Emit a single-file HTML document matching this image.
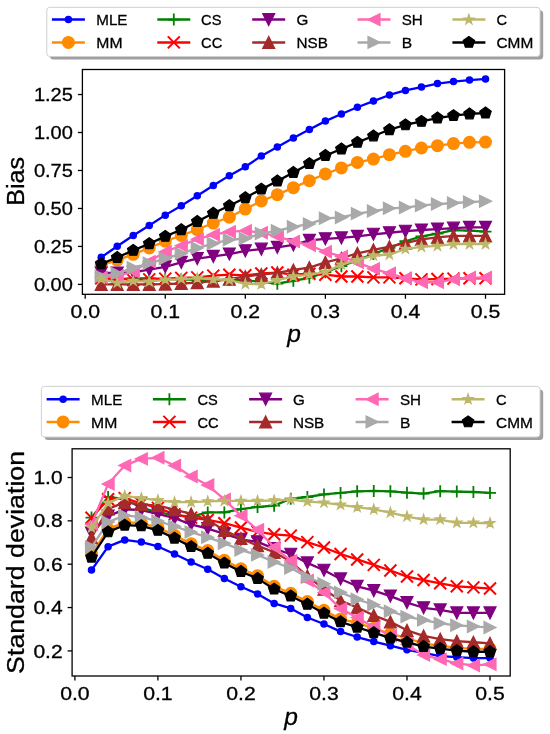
<!DOCTYPE html>
<html><head><meta charset="utf-8"><style>html,body{margin:0;padding:0;background:#fff;overflow:hidden}svg{display:block;will-change:transform}text{font-family:"Liberation Sans",sans-serif;fill:#000;stroke:#000;stroke-width:0.3px}</style></head><body>
<svg width="550" height="734" viewBox="0 0 550 734" font-family="Liberation Sans, sans-serif">
<defs><filter id="blur1" x="-5%" y="-20%" width="110%" height="140%"><feGaussianBlur stdDeviation="0.7"/></filter></defs>
<rect width="550" height="734" fill="#fff"/>
<clipPath id="c1"><rect x="82.40" y="69.50" width="422.20" height="224.80"/></clipPath>
<g clip-path="url(#c1)">
<polyline points="101.21,257.36 117.22,246.27 133.24,235.49 149.25,225.46 165.26,215.13 181.27,205.72 197.28,195.69 213.30,185.51 229.31,175.64 245.32,166.68 261.33,156.04 277.34,147.08 293.36,138.12 309.37,129.46 325.38,121.11 341.39,113.97 357.40,107.28 373.42,101.06 389.43,94.98 405.44,90.42 421.45,87.08 437.46,83.59 453.48,81.61 469.49,80.09 485.50,79.03" fill="none" stroke="#0000ff" stroke-width="2.3" stroke-linejoin="round" stroke-linecap="square"/>
<circle cx="101.21" cy="257.36" r="3.75" fill="#0000ff"/>
<circle cx="117.22" cy="246.27" r="3.75" fill="#0000ff"/>
<circle cx="133.24" cy="235.49" r="3.75" fill="#0000ff"/>
<circle cx="149.25" cy="225.46" r="3.75" fill="#0000ff"/>
<circle cx="165.26" cy="215.13" r="3.75" fill="#0000ff"/>
<circle cx="181.27" cy="205.72" r="3.75" fill="#0000ff"/>
<circle cx="197.28" cy="195.69" r="3.75" fill="#0000ff"/>
<circle cx="213.30" cy="185.51" r="3.75" fill="#0000ff"/>
<circle cx="229.31" cy="175.64" r="3.75" fill="#0000ff"/>
<circle cx="245.32" cy="166.68" r="3.75" fill="#0000ff"/>
<circle cx="261.33" cy="156.04" r="3.75" fill="#0000ff"/>
<circle cx="277.34" cy="147.08" r="3.75" fill="#0000ff"/>
<circle cx="293.36" cy="138.12" r="3.75" fill="#0000ff"/>
<circle cx="309.37" cy="129.46" r="3.75" fill="#0000ff"/>
<circle cx="325.38" cy="121.11" r="3.75" fill="#0000ff"/>
<circle cx="341.39" cy="113.97" r="3.75" fill="#0000ff"/>
<circle cx="357.40" cy="107.28" r="3.75" fill="#0000ff"/>
<circle cx="373.42" cy="101.06" r="3.75" fill="#0000ff"/>
<circle cx="389.43" cy="94.98" r="3.75" fill="#0000ff"/>
<circle cx="405.44" cy="90.42" r="3.75" fill="#0000ff"/>
<circle cx="421.45" cy="87.08" r="3.75" fill="#0000ff"/>
<circle cx="437.46" cy="83.59" r="3.75" fill="#0000ff"/>
<circle cx="453.48" cy="81.61" r="3.75" fill="#0000ff"/>
<circle cx="469.49" cy="80.09" r="3.75" fill="#0000ff"/>
<circle cx="485.50" cy="79.03" r="3.75" fill="#0000ff"/>
</g>
<g clip-path="url(#c1)">
<polyline points="101.21,265.26 117.22,260.10 133.24,254.32 149.25,247.94 165.26,241.26 181.27,235.49 197.28,229.56 213.30,223.03 229.31,217.26 245.32,209.06 261.33,201.01 277.34,194.63 293.36,187.64 309.37,180.65 325.38,173.97 341.39,167.89 357.40,162.42 373.42,159.08 389.43,154.68 405.44,151.34 421.45,147.99 437.46,145.72 453.48,143.59 469.49,142.37 485.50,142.07" fill="none" stroke="#ff8c00" stroke-width="2.3" stroke-linejoin="round" stroke-linecap="square"/>
<circle cx="101.21" cy="265.26" r="6.50" fill="#ff8c00"/>
<circle cx="117.22" cy="260.10" r="6.50" fill="#ff8c00"/>
<circle cx="133.24" cy="254.32" r="6.50" fill="#ff8c00"/>
<circle cx="149.25" cy="247.94" r="6.50" fill="#ff8c00"/>
<circle cx="165.26" cy="241.26" r="6.50" fill="#ff8c00"/>
<circle cx="181.27" cy="235.49" r="6.50" fill="#ff8c00"/>
<circle cx="197.28" cy="229.56" r="6.50" fill="#ff8c00"/>
<circle cx="213.30" cy="223.03" r="6.50" fill="#ff8c00"/>
<circle cx="229.31" cy="217.26" r="6.50" fill="#ff8c00"/>
<circle cx="245.32" cy="209.06" r="6.50" fill="#ff8c00"/>
<circle cx="261.33" cy="201.01" r="6.50" fill="#ff8c00"/>
<circle cx="277.34" cy="194.63" r="6.50" fill="#ff8c00"/>
<circle cx="293.36" cy="187.64" r="6.50" fill="#ff8c00"/>
<circle cx="309.37" cy="180.65" r="6.50" fill="#ff8c00"/>
<circle cx="325.38" cy="173.97" r="6.50" fill="#ff8c00"/>
<circle cx="341.39" cy="167.89" r="6.50" fill="#ff8c00"/>
<circle cx="357.40" cy="162.42" r="6.50" fill="#ff8c00"/>
<circle cx="373.42" cy="159.08" r="6.50" fill="#ff8c00"/>
<circle cx="389.43" cy="154.68" r="6.50" fill="#ff8c00"/>
<circle cx="405.44" cy="151.34" r="6.50" fill="#ff8c00"/>
<circle cx="421.45" cy="147.99" r="6.50" fill="#ff8c00"/>
<circle cx="437.46" cy="145.72" r="6.50" fill="#ff8c00"/>
<circle cx="453.48" cy="143.59" r="6.50" fill="#ff8c00"/>
<circle cx="469.49" cy="142.37" r="6.50" fill="#ff8c00"/>
<circle cx="485.50" cy="142.07" r="6.50" fill="#ff8c00"/>
</g>
<g clip-path="url(#c1)">
<polyline points="101.21,279.84 117.22,279.08 133.24,278.32 149.25,278.32 165.26,279.08 181.27,279.39 197.28,279.84 213.30,279.84 229.31,279.84 245.32,280.15 261.33,282.12 277.34,283.64 293.36,280.75 309.37,277.87 325.38,272.25 341.39,266.17 357.40,260.10 373.42,254.02 389.43,247.94 405.44,241.26 421.45,236.40 437.46,233.67 453.48,230.17 469.49,230.63 485.50,231.54" fill="none" stroke="#008000" stroke-width="2.3" stroke-linejoin="round" stroke-linecap="square"/>
<path transform="translate(101.21,279.84)" d="M-6.00,0 L6.00,0 M0,-6.00 L0,6.00" stroke="#008000" stroke-width="1.8" fill="none"/>
<path transform="translate(117.22,279.08)" d="M-6.00,0 L6.00,0 M0,-6.00 L0,6.00" stroke="#008000" stroke-width="1.8" fill="none"/>
<path transform="translate(133.24,278.32)" d="M-6.00,0 L6.00,0 M0,-6.00 L0,6.00" stroke="#008000" stroke-width="1.8" fill="none"/>
<path transform="translate(149.25,278.32)" d="M-6.00,0 L6.00,0 M0,-6.00 L0,6.00" stroke="#008000" stroke-width="1.8" fill="none"/>
<path transform="translate(165.26,279.08)" d="M-6.00,0 L6.00,0 M0,-6.00 L0,6.00" stroke="#008000" stroke-width="1.8" fill="none"/>
<path transform="translate(181.27,279.39)" d="M-6.00,0 L6.00,0 M0,-6.00 L0,6.00" stroke="#008000" stroke-width="1.8" fill="none"/>
<path transform="translate(197.28,279.84)" d="M-6.00,0 L6.00,0 M0,-6.00 L0,6.00" stroke="#008000" stroke-width="1.8" fill="none"/>
<path transform="translate(213.30,279.84)" d="M-6.00,0 L6.00,0 M0,-6.00 L0,6.00" stroke="#008000" stroke-width="1.8" fill="none"/>
<path transform="translate(229.31,279.84)" d="M-6.00,0 L6.00,0 M0,-6.00 L0,6.00" stroke="#008000" stroke-width="1.8" fill="none"/>
<path transform="translate(245.32,280.15)" d="M-6.00,0 L6.00,0 M0,-6.00 L0,6.00" stroke="#008000" stroke-width="1.8" fill="none"/>
<path transform="translate(261.33,282.12)" d="M-6.00,0 L6.00,0 M0,-6.00 L0,6.00" stroke="#008000" stroke-width="1.8" fill="none"/>
<path transform="translate(277.34,283.64)" d="M-6.00,0 L6.00,0 M0,-6.00 L0,6.00" stroke="#008000" stroke-width="1.8" fill="none"/>
<path transform="translate(293.36,280.75)" d="M-6.00,0 L6.00,0 M0,-6.00 L0,6.00" stroke="#008000" stroke-width="1.8" fill="none"/>
<path transform="translate(309.37,277.87)" d="M-6.00,0 L6.00,0 M0,-6.00 L0,6.00" stroke="#008000" stroke-width="1.8" fill="none"/>
<path transform="translate(325.38,272.25)" d="M-6.00,0 L6.00,0 M0,-6.00 L0,6.00" stroke="#008000" stroke-width="1.8" fill="none"/>
<path transform="translate(341.39,266.17)" d="M-6.00,0 L6.00,0 M0,-6.00 L0,6.00" stroke="#008000" stroke-width="1.8" fill="none"/>
<path transform="translate(357.40,260.10)" d="M-6.00,0 L6.00,0 M0,-6.00 L0,6.00" stroke="#008000" stroke-width="1.8" fill="none"/>
<path transform="translate(373.42,254.02)" d="M-6.00,0 L6.00,0 M0,-6.00 L0,6.00" stroke="#008000" stroke-width="1.8" fill="none"/>
<path transform="translate(389.43,247.94)" d="M-6.00,0 L6.00,0 M0,-6.00 L0,6.00" stroke="#008000" stroke-width="1.8" fill="none"/>
<path transform="translate(405.44,241.26)" d="M-6.00,0 L6.00,0 M0,-6.00 L0,6.00" stroke="#008000" stroke-width="1.8" fill="none"/>
<path transform="translate(421.45,236.40)" d="M-6.00,0 L6.00,0 M0,-6.00 L0,6.00" stroke="#008000" stroke-width="1.8" fill="none"/>
<path transform="translate(437.46,233.67)" d="M-6.00,0 L6.00,0 M0,-6.00 L0,6.00" stroke="#008000" stroke-width="1.8" fill="none"/>
<path transform="translate(453.48,230.17)" d="M-6.00,0 L6.00,0 M0,-6.00 L0,6.00" stroke="#008000" stroke-width="1.8" fill="none"/>
<path transform="translate(469.49,230.63)" d="M-6.00,0 L6.00,0 M0,-6.00 L0,6.00" stroke="#008000" stroke-width="1.8" fill="none"/>
<path transform="translate(485.50,231.54)" d="M-6.00,0 L6.00,0 M0,-6.00 L0,6.00" stroke="#008000" stroke-width="1.8" fill="none"/>
</g>
<g clip-path="url(#c1)">
<polyline points="101.21,278.32 117.22,278.32 133.24,280.15 149.25,279.39 165.26,278.63 181.27,277.87 197.28,277.41 213.30,275.59 229.31,274.68 245.32,275.29 261.33,273.46 277.34,272.55 293.36,274.68 309.37,273.77 325.38,274.68 341.39,276.50 357.40,276.50 373.42,277.41 389.43,277.41 405.44,278.32 421.45,279.39 437.46,279.08 453.48,278.63 469.49,278.32 485.50,278.32" fill="none" stroke="#ff0000" stroke-width="2.3" stroke-linejoin="round" stroke-linecap="square"/>
<path transform="translate(101.21,278.32)" d="M-6.00,-6.00 L6.00,6.00 M-6.00,6.00 L6.00,-6.00" stroke="#ff0000" stroke-width="2" fill="none"/>
<path transform="translate(117.22,278.32)" d="M-6.00,-6.00 L6.00,6.00 M-6.00,6.00 L6.00,-6.00" stroke="#ff0000" stroke-width="2" fill="none"/>
<path transform="translate(133.24,280.15)" d="M-6.00,-6.00 L6.00,6.00 M-6.00,6.00 L6.00,-6.00" stroke="#ff0000" stroke-width="2" fill="none"/>
<path transform="translate(149.25,279.39)" d="M-6.00,-6.00 L6.00,6.00 M-6.00,6.00 L6.00,-6.00" stroke="#ff0000" stroke-width="2" fill="none"/>
<path transform="translate(165.26,278.63)" d="M-6.00,-6.00 L6.00,6.00 M-6.00,6.00 L6.00,-6.00" stroke="#ff0000" stroke-width="2" fill="none"/>
<path transform="translate(181.27,277.87)" d="M-6.00,-6.00 L6.00,6.00 M-6.00,6.00 L6.00,-6.00" stroke="#ff0000" stroke-width="2" fill="none"/>
<path transform="translate(197.28,277.41)" d="M-6.00,-6.00 L6.00,6.00 M-6.00,6.00 L6.00,-6.00" stroke="#ff0000" stroke-width="2" fill="none"/>
<path transform="translate(213.30,275.59)" d="M-6.00,-6.00 L6.00,6.00 M-6.00,6.00 L6.00,-6.00" stroke="#ff0000" stroke-width="2" fill="none"/>
<path transform="translate(229.31,274.68)" d="M-6.00,-6.00 L6.00,6.00 M-6.00,6.00 L6.00,-6.00" stroke="#ff0000" stroke-width="2" fill="none"/>
<path transform="translate(245.32,275.29)" d="M-6.00,-6.00 L6.00,6.00 M-6.00,6.00 L6.00,-6.00" stroke="#ff0000" stroke-width="2" fill="none"/>
<path transform="translate(261.33,273.46)" d="M-6.00,-6.00 L6.00,6.00 M-6.00,6.00 L6.00,-6.00" stroke="#ff0000" stroke-width="2" fill="none"/>
<path transform="translate(277.34,272.55)" d="M-6.00,-6.00 L6.00,6.00 M-6.00,6.00 L6.00,-6.00" stroke="#ff0000" stroke-width="2" fill="none"/>
<path transform="translate(293.36,274.68)" d="M-6.00,-6.00 L6.00,6.00 M-6.00,6.00 L6.00,-6.00" stroke="#ff0000" stroke-width="2" fill="none"/>
<path transform="translate(309.37,273.77)" d="M-6.00,-6.00 L6.00,6.00 M-6.00,6.00 L6.00,-6.00" stroke="#ff0000" stroke-width="2" fill="none"/>
<path transform="translate(325.38,274.68)" d="M-6.00,-6.00 L6.00,6.00 M-6.00,6.00 L6.00,-6.00" stroke="#ff0000" stroke-width="2" fill="none"/>
<path transform="translate(341.39,276.50)" d="M-6.00,-6.00 L6.00,6.00 M-6.00,6.00 L6.00,-6.00" stroke="#ff0000" stroke-width="2" fill="none"/>
<path transform="translate(357.40,276.50)" d="M-6.00,-6.00 L6.00,6.00 M-6.00,6.00 L6.00,-6.00" stroke="#ff0000" stroke-width="2" fill="none"/>
<path transform="translate(373.42,277.41)" d="M-6.00,-6.00 L6.00,6.00 M-6.00,6.00 L6.00,-6.00" stroke="#ff0000" stroke-width="2" fill="none"/>
<path transform="translate(389.43,277.41)" d="M-6.00,-6.00 L6.00,6.00 M-6.00,6.00 L6.00,-6.00" stroke="#ff0000" stroke-width="2" fill="none"/>
<path transform="translate(405.44,278.32)" d="M-6.00,-6.00 L6.00,6.00 M-6.00,6.00 L6.00,-6.00" stroke="#ff0000" stroke-width="2" fill="none"/>
<path transform="translate(421.45,279.39)" d="M-6.00,-6.00 L6.00,6.00 M-6.00,6.00 L6.00,-6.00" stroke="#ff0000" stroke-width="2" fill="none"/>
<path transform="translate(437.46,279.08)" d="M-6.00,-6.00 L6.00,6.00 M-6.00,6.00 L6.00,-6.00" stroke="#ff0000" stroke-width="2" fill="none"/>
<path transform="translate(453.48,278.63)" d="M-6.00,-6.00 L6.00,6.00 M-6.00,6.00 L6.00,-6.00" stroke="#ff0000" stroke-width="2" fill="none"/>
<path transform="translate(469.49,278.32)" d="M-6.00,-6.00 L6.00,6.00 M-6.00,6.00 L6.00,-6.00" stroke="#ff0000" stroke-width="2" fill="none"/>
<path transform="translate(485.50,278.32)" d="M-6.00,-6.00 L6.00,6.00 M-6.00,6.00 L6.00,-6.00" stroke="#ff0000" stroke-width="2" fill="none"/>
</g>
<g clip-path="url(#c1)">
<polyline points="101.21,273.01 117.22,273.01 133.24,272.25 149.25,269.67 165.26,266.78 181.27,262.37 197.28,258.58 213.30,256.45 229.31,254.02 245.32,250.83 261.33,249.16 277.34,247.34 293.36,244.91 309.37,240.35 325.38,238.83 341.39,237.92 357.40,236.40 373.42,234.27 389.43,232.75 405.44,231.23 421.45,230.02 437.46,229.11 453.48,228.20 469.49,227.44 485.50,227.29" fill="none" stroke="#800080" stroke-width="2.3" stroke-linejoin="round" stroke-linecap="square"/>
<path transform="translate(101.21,273.01)" d="M0.00,6.00 L6.00,-6.00 L-6.00,-6.00 Z" fill="#800080" stroke="#800080" stroke-width="1.2" stroke-linejoin="miter"/>
<path transform="translate(117.22,273.01)" d="M0.00,6.00 L6.00,-6.00 L-6.00,-6.00 Z" fill="#800080" stroke="#800080" stroke-width="1.2" stroke-linejoin="miter"/>
<path transform="translate(133.24,272.25)" d="M0.00,6.00 L6.00,-6.00 L-6.00,-6.00 Z" fill="#800080" stroke="#800080" stroke-width="1.2" stroke-linejoin="miter"/>
<path transform="translate(149.25,269.67)" d="M0.00,6.00 L6.00,-6.00 L-6.00,-6.00 Z" fill="#800080" stroke="#800080" stroke-width="1.2" stroke-linejoin="miter"/>
<path transform="translate(165.26,266.78)" d="M0.00,6.00 L6.00,-6.00 L-6.00,-6.00 Z" fill="#800080" stroke="#800080" stroke-width="1.2" stroke-linejoin="miter"/>
<path transform="translate(181.27,262.37)" d="M0.00,6.00 L6.00,-6.00 L-6.00,-6.00 Z" fill="#800080" stroke="#800080" stroke-width="1.2" stroke-linejoin="miter"/>
<path transform="translate(197.28,258.58)" d="M0.00,6.00 L6.00,-6.00 L-6.00,-6.00 Z" fill="#800080" stroke="#800080" stroke-width="1.2" stroke-linejoin="miter"/>
<path transform="translate(213.30,256.45)" d="M0.00,6.00 L6.00,-6.00 L-6.00,-6.00 Z" fill="#800080" stroke="#800080" stroke-width="1.2" stroke-linejoin="miter"/>
<path transform="translate(229.31,254.02)" d="M0.00,6.00 L6.00,-6.00 L-6.00,-6.00 Z" fill="#800080" stroke="#800080" stroke-width="1.2" stroke-linejoin="miter"/>
<path transform="translate(245.32,250.83)" d="M0.00,6.00 L6.00,-6.00 L-6.00,-6.00 Z" fill="#800080" stroke="#800080" stroke-width="1.2" stroke-linejoin="miter"/>
<path transform="translate(261.33,249.16)" d="M0.00,6.00 L6.00,-6.00 L-6.00,-6.00 Z" fill="#800080" stroke="#800080" stroke-width="1.2" stroke-linejoin="miter"/>
<path transform="translate(277.34,247.34)" d="M0.00,6.00 L6.00,-6.00 L-6.00,-6.00 Z" fill="#800080" stroke="#800080" stroke-width="1.2" stroke-linejoin="miter"/>
<path transform="translate(293.36,244.91)" d="M0.00,6.00 L6.00,-6.00 L-6.00,-6.00 Z" fill="#800080" stroke="#800080" stroke-width="1.2" stroke-linejoin="miter"/>
<path transform="translate(309.37,240.35)" d="M0.00,6.00 L6.00,-6.00 L-6.00,-6.00 Z" fill="#800080" stroke="#800080" stroke-width="1.2" stroke-linejoin="miter"/>
<path transform="translate(325.38,238.83)" d="M0.00,6.00 L6.00,-6.00 L-6.00,-6.00 Z" fill="#800080" stroke="#800080" stroke-width="1.2" stroke-linejoin="miter"/>
<path transform="translate(341.39,237.92)" d="M0.00,6.00 L6.00,-6.00 L-6.00,-6.00 Z" fill="#800080" stroke="#800080" stroke-width="1.2" stroke-linejoin="miter"/>
<path transform="translate(357.40,236.40)" d="M0.00,6.00 L6.00,-6.00 L-6.00,-6.00 Z" fill="#800080" stroke="#800080" stroke-width="1.2" stroke-linejoin="miter"/>
<path transform="translate(373.42,234.27)" d="M0.00,6.00 L6.00,-6.00 L-6.00,-6.00 Z" fill="#800080" stroke="#800080" stroke-width="1.2" stroke-linejoin="miter"/>
<path transform="translate(389.43,232.75)" d="M0.00,6.00 L6.00,-6.00 L-6.00,-6.00 Z" fill="#800080" stroke="#800080" stroke-width="1.2" stroke-linejoin="miter"/>
<path transform="translate(405.44,231.23)" d="M0.00,6.00 L6.00,-6.00 L-6.00,-6.00 Z" fill="#800080" stroke="#800080" stroke-width="1.2" stroke-linejoin="miter"/>
<path transform="translate(421.45,230.02)" d="M0.00,6.00 L6.00,-6.00 L-6.00,-6.00 Z" fill="#800080" stroke="#800080" stroke-width="1.2" stroke-linejoin="miter"/>
<path transform="translate(437.46,229.11)" d="M0.00,6.00 L6.00,-6.00 L-6.00,-6.00 Z" fill="#800080" stroke="#800080" stroke-width="1.2" stroke-linejoin="miter"/>
<path transform="translate(453.48,228.20)" d="M0.00,6.00 L6.00,-6.00 L-6.00,-6.00 Z" fill="#800080" stroke="#800080" stroke-width="1.2" stroke-linejoin="miter"/>
<path transform="translate(469.49,227.44)" d="M0.00,6.00 L6.00,-6.00 L-6.00,-6.00 Z" fill="#800080" stroke="#800080" stroke-width="1.2" stroke-linejoin="miter"/>
<path transform="translate(485.50,227.29)" d="M0.00,6.00 L6.00,-6.00 L-6.00,-6.00 Z" fill="#800080" stroke="#800080" stroke-width="1.2" stroke-linejoin="miter"/>
</g>
<g clip-path="url(#c1)">
<polyline points="101.21,284.40 117.22,284.40 133.24,284.40 149.25,284.40 165.26,284.10 181.27,283.49 197.28,282.58 213.30,281.06 229.31,279.24 245.32,276.50 261.33,274.53 277.34,272.86 293.36,269.97 309.37,267.54 325.38,262.37 341.39,258.27 357.40,253.26 373.42,249.77 389.43,246.73 405.44,243.08 421.45,239.29 437.46,237.46 453.48,235.79 469.49,235.79 485.50,235.79" fill="none" stroke="#a52a2a" stroke-width="2.3" stroke-linejoin="round" stroke-linecap="square"/>
<path transform="translate(101.21,284.40)" d="M0.00,-6.00 L-6.00,6.00 L6.00,6.00 Z" fill="#a52a2a" stroke="#a52a2a" stroke-width="1.2" stroke-linejoin="miter"/>
<path transform="translate(117.22,284.40)" d="M0.00,-6.00 L-6.00,6.00 L6.00,6.00 Z" fill="#a52a2a" stroke="#a52a2a" stroke-width="1.2" stroke-linejoin="miter"/>
<path transform="translate(133.24,284.40)" d="M0.00,-6.00 L-6.00,6.00 L6.00,6.00 Z" fill="#a52a2a" stroke="#a52a2a" stroke-width="1.2" stroke-linejoin="miter"/>
<path transform="translate(149.25,284.40)" d="M0.00,-6.00 L-6.00,6.00 L6.00,6.00 Z" fill="#a52a2a" stroke="#a52a2a" stroke-width="1.2" stroke-linejoin="miter"/>
<path transform="translate(165.26,284.10)" d="M0.00,-6.00 L-6.00,6.00 L6.00,6.00 Z" fill="#a52a2a" stroke="#a52a2a" stroke-width="1.2" stroke-linejoin="miter"/>
<path transform="translate(181.27,283.49)" d="M0.00,-6.00 L-6.00,6.00 L6.00,6.00 Z" fill="#a52a2a" stroke="#a52a2a" stroke-width="1.2" stroke-linejoin="miter"/>
<path transform="translate(197.28,282.58)" d="M0.00,-6.00 L-6.00,6.00 L6.00,6.00 Z" fill="#a52a2a" stroke="#a52a2a" stroke-width="1.2" stroke-linejoin="miter"/>
<path transform="translate(213.30,281.06)" d="M0.00,-6.00 L-6.00,6.00 L6.00,6.00 Z" fill="#a52a2a" stroke="#a52a2a" stroke-width="1.2" stroke-linejoin="miter"/>
<path transform="translate(229.31,279.24)" d="M0.00,-6.00 L-6.00,6.00 L6.00,6.00 Z" fill="#a52a2a" stroke="#a52a2a" stroke-width="1.2" stroke-linejoin="miter"/>
<path transform="translate(245.32,276.50)" d="M0.00,-6.00 L-6.00,6.00 L6.00,6.00 Z" fill="#a52a2a" stroke="#a52a2a" stroke-width="1.2" stroke-linejoin="miter"/>
<path transform="translate(261.33,274.53)" d="M0.00,-6.00 L-6.00,6.00 L6.00,6.00 Z" fill="#a52a2a" stroke="#a52a2a" stroke-width="1.2" stroke-linejoin="miter"/>
<path transform="translate(277.34,272.86)" d="M0.00,-6.00 L-6.00,6.00 L6.00,6.00 Z" fill="#a52a2a" stroke="#a52a2a" stroke-width="1.2" stroke-linejoin="miter"/>
<path transform="translate(293.36,269.97)" d="M0.00,-6.00 L-6.00,6.00 L6.00,6.00 Z" fill="#a52a2a" stroke="#a52a2a" stroke-width="1.2" stroke-linejoin="miter"/>
<path transform="translate(309.37,267.54)" d="M0.00,-6.00 L-6.00,6.00 L6.00,6.00 Z" fill="#a52a2a" stroke="#a52a2a" stroke-width="1.2" stroke-linejoin="miter"/>
<path transform="translate(325.38,262.37)" d="M0.00,-6.00 L-6.00,6.00 L6.00,6.00 Z" fill="#a52a2a" stroke="#a52a2a" stroke-width="1.2" stroke-linejoin="miter"/>
<path transform="translate(341.39,258.27)" d="M0.00,-6.00 L-6.00,6.00 L6.00,6.00 Z" fill="#a52a2a" stroke="#a52a2a" stroke-width="1.2" stroke-linejoin="miter"/>
<path transform="translate(357.40,253.26)" d="M0.00,-6.00 L-6.00,6.00 L6.00,6.00 Z" fill="#a52a2a" stroke="#a52a2a" stroke-width="1.2" stroke-linejoin="miter"/>
<path transform="translate(373.42,249.77)" d="M0.00,-6.00 L-6.00,6.00 L6.00,6.00 Z" fill="#a52a2a" stroke="#a52a2a" stroke-width="1.2" stroke-linejoin="miter"/>
<path transform="translate(389.43,246.73)" d="M0.00,-6.00 L-6.00,6.00 L6.00,6.00 Z" fill="#a52a2a" stroke="#a52a2a" stroke-width="1.2" stroke-linejoin="miter"/>
<path transform="translate(405.44,243.08)" d="M0.00,-6.00 L-6.00,6.00 L6.00,6.00 Z" fill="#a52a2a" stroke="#a52a2a" stroke-width="1.2" stroke-linejoin="miter"/>
<path transform="translate(421.45,239.29)" d="M0.00,-6.00 L-6.00,6.00 L6.00,6.00 Z" fill="#a52a2a" stroke="#a52a2a" stroke-width="1.2" stroke-linejoin="miter"/>
<path transform="translate(437.46,237.46)" d="M0.00,-6.00 L-6.00,6.00 L6.00,6.00 Z" fill="#a52a2a" stroke="#a52a2a" stroke-width="1.2" stroke-linejoin="miter"/>
<path transform="translate(453.48,235.79)" d="M0.00,-6.00 L-6.00,6.00 L6.00,6.00 Z" fill="#a52a2a" stroke="#a52a2a" stroke-width="1.2" stroke-linejoin="miter"/>
<path transform="translate(469.49,235.79)" d="M0.00,-6.00 L-6.00,6.00 L6.00,6.00 Z" fill="#a52a2a" stroke="#a52a2a" stroke-width="1.2" stroke-linejoin="miter"/>
<path transform="translate(485.50,235.79)" d="M0.00,-6.00 L-6.00,6.00 L6.00,6.00 Z" fill="#a52a2a" stroke="#a52a2a" stroke-width="1.2" stroke-linejoin="miter"/>
</g>
<g clip-path="url(#c1)">
<polyline points="101.21,277.56 117.22,276.05 133.24,271.49 149.25,261.61 165.26,251.74 181.27,245.67 197.28,239.13 213.30,234.73 229.31,231.84 245.32,230.63 261.33,232.75 277.34,236.40 293.36,241.41 309.37,245.21 325.38,251.74 341.39,256.45 357.40,262.37 373.42,268.75 389.43,273.31 405.44,278.32 421.45,282.27 437.46,282.27 453.48,279.39 469.49,277.56 485.50,277.56" fill="none" stroke="#ff69b4" stroke-width="2.3" stroke-linejoin="round" stroke-linecap="square"/>
<path transform="translate(101.21,277.56)" d="M-6.00,0.00 L6.00,6.00 L6.00,-6.00 Z" fill="#ff69b4" stroke="#ff69b4" stroke-width="1.2" stroke-linejoin="miter"/>
<path transform="translate(117.22,276.05)" d="M-6.00,0.00 L6.00,6.00 L6.00,-6.00 Z" fill="#ff69b4" stroke="#ff69b4" stroke-width="1.2" stroke-linejoin="miter"/>
<path transform="translate(133.24,271.49)" d="M-6.00,0.00 L6.00,6.00 L6.00,-6.00 Z" fill="#ff69b4" stroke="#ff69b4" stroke-width="1.2" stroke-linejoin="miter"/>
<path transform="translate(149.25,261.61)" d="M-6.00,0.00 L6.00,6.00 L6.00,-6.00 Z" fill="#ff69b4" stroke="#ff69b4" stroke-width="1.2" stroke-linejoin="miter"/>
<path transform="translate(165.26,251.74)" d="M-6.00,0.00 L6.00,6.00 L6.00,-6.00 Z" fill="#ff69b4" stroke="#ff69b4" stroke-width="1.2" stroke-linejoin="miter"/>
<path transform="translate(181.27,245.67)" d="M-6.00,0.00 L6.00,6.00 L6.00,-6.00 Z" fill="#ff69b4" stroke="#ff69b4" stroke-width="1.2" stroke-linejoin="miter"/>
<path transform="translate(197.28,239.13)" d="M-6.00,0.00 L6.00,6.00 L6.00,-6.00 Z" fill="#ff69b4" stroke="#ff69b4" stroke-width="1.2" stroke-linejoin="miter"/>
<path transform="translate(213.30,234.73)" d="M-6.00,0.00 L6.00,6.00 L6.00,-6.00 Z" fill="#ff69b4" stroke="#ff69b4" stroke-width="1.2" stroke-linejoin="miter"/>
<path transform="translate(229.31,231.84)" d="M-6.00,0.00 L6.00,6.00 L6.00,-6.00 Z" fill="#ff69b4" stroke="#ff69b4" stroke-width="1.2" stroke-linejoin="miter"/>
<path transform="translate(245.32,230.63)" d="M-6.00,0.00 L6.00,6.00 L6.00,-6.00 Z" fill="#ff69b4" stroke="#ff69b4" stroke-width="1.2" stroke-linejoin="miter"/>
<path transform="translate(261.33,232.75)" d="M-6.00,0.00 L6.00,6.00 L6.00,-6.00 Z" fill="#ff69b4" stroke="#ff69b4" stroke-width="1.2" stroke-linejoin="miter"/>
<path transform="translate(277.34,236.40)" d="M-6.00,0.00 L6.00,6.00 L6.00,-6.00 Z" fill="#ff69b4" stroke="#ff69b4" stroke-width="1.2" stroke-linejoin="miter"/>
<path transform="translate(293.36,241.41)" d="M-6.00,0.00 L6.00,6.00 L6.00,-6.00 Z" fill="#ff69b4" stroke="#ff69b4" stroke-width="1.2" stroke-linejoin="miter"/>
<path transform="translate(309.37,245.21)" d="M-6.00,0.00 L6.00,6.00 L6.00,-6.00 Z" fill="#ff69b4" stroke="#ff69b4" stroke-width="1.2" stroke-linejoin="miter"/>
<path transform="translate(325.38,251.74)" d="M-6.00,0.00 L6.00,6.00 L6.00,-6.00 Z" fill="#ff69b4" stroke="#ff69b4" stroke-width="1.2" stroke-linejoin="miter"/>
<path transform="translate(341.39,256.45)" d="M-6.00,0.00 L6.00,6.00 L6.00,-6.00 Z" fill="#ff69b4" stroke="#ff69b4" stroke-width="1.2" stroke-linejoin="miter"/>
<path transform="translate(357.40,262.37)" d="M-6.00,0.00 L6.00,6.00 L6.00,-6.00 Z" fill="#ff69b4" stroke="#ff69b4" stroke-width="1.2" stroke-linejoin="miter"/>
<path transform="translate(373.42,268.75)" d="M-6.00,0.00 L6.00,6.00 L6.00,-6.00 Z" fill="#ff69b4" stroke="#ff69b4" stroke-width="1.2" stroke-linejoin="miter"/>
<path transform="translate(389.43,273.31)" d="M-6.00,0.00 L6.00,6.00 L6.00,-6.00 Z" fill="#ff69b4" stroke="#ff69b4" stroke-width="1.2" stroke-linejoin="miter"/>
<path transform="translate(405.44,278.32)" d="M-6.00,0.00 L6.00,6.00 L6.00,-6.00 Z" fill="#ff69b4" stroke="#ff69b4" stroke-width="1.2" stroke-linejoin="miter"/>
<path transform="translate(421.45,282.27)" d="M-6.00,0.00 L6.00,6.00 L6.00,-6.00 Z" fill="#ff69b4" stroke="#ff69b4" stroke-width="1.2" stroke-linejoin="miter"/>
<path transform="translate(437.46,282.27)" d="M-6.00,0.00 L6.00,6.00 L6.00,-6.00 Z" fill="#ff69b4" stroke="#ff69b4" stroke-width="1.2" stroke-linejoin="miter"/>
<path transform="translate(453.48,279.39)" d="M-6.00,0.00 L6.00,6.00 L6.00,-6.00 Z" fill="#ff69b4" stroke="#ff69b4" stroke-width="1.2" stroke-linejoin="miter"/>
<path transform="translate(469.49,277.56)" d="M-6.00,0.00 L6.00,6.00 L6.00,-6.00 Z" fill="#ff69b4" stroke="#ff69b4" stroke-width="1.2" stroke-linejoin="miter"/>
<path transform="translate(485.50,277.56)" d="M-6.00,0.00 L6.00,6.00 L6.00,-6.00 Z" fill="#ff69b4" stroke="#ff69b4" stroke-width="1.2" stroke-linejoin="miter"/>
</g>
<g clip-path="url(#c1)">
<polyline points="101.21,276.35 117.22,273.46 133.24,267.84 149.25,263.29 165.26,258.58 181.27,253.56 197.28,247.94 213.30,243.54 229.31,239.74 245.32,238.53 261.33,233.51 277.34,230.63 293.36,226.83 309.37,223.94 325.38,218.32 341.39,217.41 357.40,213.61 373.42,211.03 389.43,208.30 405.44,207.54 421.45,205.41 437.46,204.04 453.48,202.98 469.49,202.07 485.50,201.16" fill="none" stroke="#a9a9a9" stroke-width="2.3" stroke-linejoin="round" stroke-linecap="square"/>
<path transform="translate(101.21,276.35)" d="M6.00,-0.00 L-6.00,-6.00 L-6.00,6.00 Z" fill="#a9a9a9" stroke="#a9a9a9" stroke-width="1.2" stroke-linejoin="miter"/>
<path transform="translate(117.22,273.46)" d="M6.00,-0.00 L-6.00,-6.00 L-6.00,6.00 Z" fill="#a9a9a9" stroke="#a9a9a9" stroke-width="1.2" stroke-linejoin="miter"/>
<path transform="translate(133.24,267.84)" d="M6.00,-0.00 L-6.00,-6.00 L-6.00,6.00 Z" fill="#a9a9a9" stroke="#a9a9a9" stroke-width="1.2" stroke-linejoin="miter"/>
<path transform="translate(149.25,263.29)" d="M6.00,-0.00 L-6.00,-6.00 L-6.00,6.00 Z" fill="#a9a9a9" stroke="#a9a9a9" stroke-width="1.2" stroke-linejoin="miter"/>
<path transform="translate(165.26,258.58)" d="M6.00,-0.00 L-6.00,-6.00 L-6.00,6.00 Z" fill="#a9a9a9" stroke="#a9a9a9" stroke-width="1.2" stroke-linejoin="miter"/>
<path transform="translate(181.27,253.56)" d="M6.00,-0.00 L-6.00,-6.00 L-6.00,6.00 Z" fill="#a9a9a9" stroke="#a9a9a9" stroke-width="1.2" stroke-linejoin="miter"/>
<path transform="translate(197.28,247.94)" d="M6.00,-0.00 L-6.00,-6.00 L-6.00,6.00 Z" fill="#a9a9a9" stroke="#a9a9a9" stroke-width="1.2" stroke-linejoin="miter"/>
<path transform="translate(213.30,243.54)" d="M6.00,-0.00 L-6.00,-6.00 L-6.00,6.00 Z" fill="#a9a9a9" stroke="#a9a9a9" stroke-width="1.2" stroke-linejoin="miter"/>
<path transform="translate(229.31,239.74)" d="M6.00,-0.00 L-6.00,-6.00 L-6.00,6.00 Z" fill="#a9a9a9" stroke="#a9a9a9" stroke-width="1.2" stroke-linejoin="miter"/>
<path transform="translate(245.32,238.53)" d="M6.00,-0.00 L-6.00,-6.00 L-6.00,6.00 Z" fill="#a9a9a9" stroke="#a9a9a9" stroke-width="1.2" stroke-linejoin="miter"/>
<path transform="translate(261.33,233.51)" d="M6.00,-0.00 L-6.00,-6.00 L-6.00,6.00 Z" fill="#a9a9a9" stroke="#a9a9a9" stroke-width="1.2" stroke-linejoin="miter"/>
<path transform="translate(277.34,230.63)" d="M6.00,-0.00 L-6.00,-6.00 L-6.00,6.00 Z" fill="#a9a9a9" stroke="#a9a9a9" stroke-width="1.2" stroke-linejoin="miter"/>
<path transform="translate(293.36,226.83)" d="M6.00,-0.00 L-6.00,-6.00 L-6.00,6.00 Z" fill="#a9a9a9" stroke="#a9a9a9" stroke-width="1.2" stroke-linejoin="miter"/>
<path transform="translate(309.37,223.94)" d="M6.00,-0.00 L-6.00,-6.00 L-6.00,6.00 Z" fill="#a9a9a9" stroke="#a9a9a9" stroke-width="1.2" stroke-linejoin="miter"/>
<path transform="translate(325.38,218.32)" d="M6.00,-0.00 L-6.00,-6.00 L-6.00,6.00 Z" fill="#a9a9a9" stroke="#a9a9a9" stroke-width="1.2" stroke-linejoin="miter"/>
<path transform="translate(341.39,217.41)" d="M6.00,-0.00 L-6.00,-6.00 L-6.00,6.00 Z" fill="#a9a9a9" stroke="#a9a9a9" stroke-width="1.2" stroke-linejoin="miter"/>
<path transform="translate(357.40,213.61)" d="M6.00,-0.00 L-6.00,-6.00 L-6.00,6.00 Z" fill="#a9a9a9" stroke="#a9a9a9" stroke-width="1.2" stroke-linejoin="miter"/>
<path transform="translate(373.42,211.03)" d="M6.00,-0.00 L-6.00,-6.00 L-6.00,6.00 Z" fill="#a9a9a9" stroke="#a9a9a9" stroke-width="1.2" stroke-linejoin="miter"/>
<path transform="translate(389.43,208.30)" d="M6.00,-0.00 L-6.00,-6.00 L-6.00,6.00 Z" fill="#a9a9a9" stroke="#a9a9a9" stroke-width="1.2" stroke-linejoin="miter"/>
<path transform="translate(405.44,207.54)" d="M6.00,-0.00 L-6.00,-6.00 L-6.00,6.00 Z" fill="#a9a9a9" stroke="#a9a9a9" stroke-width="1.2" stroke-linejoin="miter"/>
<path transform="translate(421.45,205.41)" d="M6.00,-0.00 L-6.00,-6.00 L-6.00,6.00 Z" fill="#a9a9a9" stroke="#a9a9a9" stroke-width="1.2" stroke-linejoin="miter"/>
<path transform="translate(437.46,204.04)" d="M6.00,-0.00 L-6.00,-6.00 L-6.00,6.00 Z" fill="#a9a9a9" stroke="#a9a9a9" stroke-width="1.2" stroke-linejoin="miter"/>
<path transform="translate(453.48,202.98)" d="M6.00,-0.00 L-6.00,-6.00 L-6.00,6.00 Z" fill="#a9a9a9" stroke="#a9a9a9" stroke-width="1.2" stroke-linejoin="miter"/>
<path transform="translate(469.49,202.07)" d="M6.00,-0.00 L-6.00,-6.00 L-6.00,6.00 Z" fill="#a9a9a9" stroke="#a9a9a9" stroke-width="1.2" stroke-linejoin="miter"/>
<path transform="translate(485.50,201.16)" d="M6.00,-0.00 L-6.00,-6.00 L-6.00,6.00 Z" fill="#a9a9a9" stroke="#a9a9a9" stroke-width="1.2" stroke-linejoin="miter"/>
</g>
<g clip-path="url(#c1)">
<polyline points="101.21,279.08 117.22,282.88 133.24,281.06 149.25,281.67 165.26,279.84 181.27,279.08 197.28,278.32 213.30,279.24 229.31,280.15 245.32,283.94 261.33,284.25 277.34,280.15 293.36,276.35 309.37,274.83 325.38,271.94 341.39,264.65 357.40,260.10 373.42,255.54 389.43,254.63 405.44,249.01 421.45,246.88 437.46,245.97 453.48,244.15 469.49,244.15 485.50,244.15" fill="none" stroke="#bdb76b" stroke-width="2.3" stroke-linejoin="round" stroke-linecap="square"/>
<path transform="translate(101.21,279.08)" d="M0.00,-5.20 L-1.17,-1.61 L-4.95,-1.61 L-1.89,0.61 L-3.06,4.21 L-0.00,1.99 L3.06,4.21 L1.89,0.61 L4.95,-1.61 L1.17,-1.61 Z" fill="#bdb76b" stroke="#bdb76b" stroke-width="1.2" stroke-linejoin="miter"/>
<path transform="translate(117.22,282.88)" d="M0.00,-5.20 L-1.17,-1.61 L-4.95,-1.61 L-1.89,0.61 L-3.06,4.21 L-0.00,1.99 L3.06,4.21 L1.89,0.61 L4.95,-1.61 L1.17,-1.61 Z" fill="#bdb76b" stroke="#bdb76b" stroke-width="1.2" stroke-linejoin="miter"/>
<path transform="translate(133.24,281.06)" d="M0.00,-5.20 L-1.17,-1.61 L-4.95,-1.61 L-1.89,0.61 L-3.06,4.21 L-0.00,1.99 L3.06,4.21 L1.89,0.61 L4.95,-1.61 L1.17,-1.61 Z" fill="#bdb76b" stroke="#bdb76b" stroke-width="1.2" stroke-linejoin="miter"/>
<path transform="translate(149.25,281.67)" d="M0.00,-5.20 L-1.17,-1.61 L-4.95,-1.61 L-1.89,0.61 L-3.06,4.21 L-0.00,1.99 L3.06,4.21 L1.89,0.61 L4.95,-1.61 L1.17,-1.61 Z" fill="#bdb76b" stroke="#bdb76b" stroke-width="1.2" stroke-linejoin="miter"/>
<path transform="translate(165.26,279.84)" d="M0.00,-5.20 L-1.17,-1.61 L-4.95,-1.61 L-1.89,0.61 L-3.06,4.21 L-0.00,1.99 L3.06,4.21 L1.89,0.61 L4.95,-1.61 L1.17,-1.61 Z" fill="#bdb76b" stroke="#bdb76b" stroke-width="1.2" stroke-linejoin="miter"/>
<path transform="translate(181.27,279.08)" d="M0.00,-5.20 L-1.17,-1.61 L-4.95,-1.61 L-1.89,0.61 L-3.06,4.21 L-0.00,1.99 L3.06,4.21 L1.89,0.61 L4.95,-1.61 L1.17,-1.61 Z" fill="#bdb76b" stroke="#bdb76b" stroke-width="1.2" stroke-linejoin="miter"/>
<path transform="translate(197.28,278.32)" d="M0.00,-5.20 L-1.17,-1.61 L-4.95,-1.61 L-1.89,0.61 L-3.06,4.21 L-0.00,1.99 L3.06,4.21 L1.89,0.61 L4.95,-1.61 L1.17,-1.61 Z" fill="#bdb76b" stroke="#bdb76b" stroke-width="1.2" stroke-linejoin="miter"/>
<path transform="translate(213.30,279.24)" d="M0.00,-5.20 L-1.17,-1.61 L-4.95,-1.61 L-1.89,0.61 L-3.06,4.21 L-0.00,1.99 L3.06,4.21 L1.89,0.61 L4.95,-1.61 L1.17,-1.61 Z" fill="#bdb76b" stroke="#bdb76b" stroke-width="1.2" stroke-linejoin="miter"/>
<path transform="translate(229.31,280.15)" d="M0.00,-5.20 L-1.17,-1.61 L-4.95,-1.61 L-1.89,0.61 L-3.06,4.21 L-0.00,1.99 L3.06,4.21 L1.89,0.61 L4.95,-1.61 L1.17,-1.61 Z" fill="#bdb76b" stroke="#bdb76b" stroke-width="1.2" stroke-linejoin="miter"/>
<path transform="translate(245.32,283.94)" d="M0.00,-5.20 L-1.17,-1.61 L-4.95,-1.61 L-1.89,0.61 L-3.06,4.21 L-0.00,1.99 L3.06,4.21 L1.89,0.61 L4.95,-1.61 L1.17,-1.61 Z" fill="#bdb76b" stroke="#bdb76b" stroke-width="1.2" stroke-linejoin="miter"/>
<path transform="translate(261.33,284.25)" d="M0.00,-5.20 L-1.17,-1.61 L-4.95,-1.61 L-1.89,0.61 L-3.06,4.21 L-0.00,1.99 L3.06,4.21 L1.89,0.61 L4.95,-1.61 L1.17,-1.61 Z" fill="#bdb76b" stroke="#bdb76b" stroke-width="1.2" stroke-linejoin="miter"/>
<path transform="translate(277.34,280.15)" d="M0.00,-5.20 L-1.17,-1.61 L-4.95,-1.61 L-1.89,0.61 L-3.06,4.21 L-0.00,1.99 L3.06,4.21 L1.89,0.61 L4.95,-1.61 L1.17,-1.61 Z" fill="#bdb76b" stroke="#bdb76b" stroke-width="1.2" stroke-linejoin="miter"/>
<path transform="translate(293.36,276.35)" d="M0.00,-5.20 L-1.17,-1.61 L-4.95,-1.61 L-1.89,0.61 L-3.06,4.21 L-0.00,1.99 L3.06,4.21 L1.89,0.61 L4.95,-1.61 L1.17,-1.61 Z" fill="#bdb76b" stroke="#bdb76b" stroke-width="1.2" stroke-linejoin="miter"/>
<path transform="translate(309.37,274.83)" d="M0.00,-5.20 L-1.17,-1.61 L-4.95,-1.61 L-1.89,0.61 L-3.06,4.21 L-0.00,1.99 L3.06,4.21 L1.89,0.61 L4.95,-1.61 L1.17,-1.61 Z" fill="#bdb76b" stroke="#bdb76b" stroke-width="1.2" stroke-linejoin="miter"/>
<path transform="translate(325.38,271.94)" d="M0.00,-5.20 L-1.17,-1.61 L-4.95,-1.61 L-1.89,0.61 L-3.06,4.21 L-0.00,1.99 L3.06,4.21 L1.89,0.61 L4.95,-1.61 L1.17,-1.61 Z" fill="#bdb76b" stroke="#bdb76b" stroke-width="1.2" stroke-linejoin="miter"/>
<path transform="translate(341.39,264.65)" d="M0.00,-5.20 L-1.17,-1.61 L-4.95,-1.61 L-1.89,0.61 L-3.06,4.21 L-0.00,1.99 L3.06,4.21 L1.89,0.61 L4.95,-1.61 L1.17,-1.61 Z" fill="#bdb76b" stroke="#bdb76b" stroke-width="1.2" stroke-linejoin="miter"/>
<path transform="translate(357.40,260.10)" d="M0.00,-5.20 L-1.17,-1.61 L-4.95,-1.61 L-1.89,0.61 L-3.06,4.21 L-0.00,1.99 L3.06,4.21 L1.89,0.61 L4.95,-1.61 L1.17,-1.61 Z" fill="#bdb76b" stroke="#bdb76b" stroke-width="1.2" stroke-linejoin="miter"/>
<path transform="translate(373.42,255.54)" d="M0.00,-5.20 L-1.17,-1.61 L-4.95,-1.61 L-1.89,0.61 L-3.06,4.21 L-0.00,1.99 L3.06,4.21 L1.89,0.61 L4.95,-1.61 L1.17,-1.61 Z" fill="#bdb76b" stroke="#bdb76b" stroke-width="1.2" stroke-linejoin="miter"/>
<path transform="translate(389.43,254.63)" d="M0.00,-5.20 L-1.17,-1.61 L-4.95,-1.61 L-1.89,0.61 L-3.06,4.21 L-0.00,1.99 L3.06,4.21 L1.89,0.61 L4.95,-1.61 L1.17,-1.61 Z" fill="#bdb76b" stroke="#bdb76b" stroke-width="1.2" stroke-linejoin="miter"/>
<path transform="translate(405.44,249.01)" d="M0.00,-5.20 L-1.17,-1.61 L-4.95,-1.61 L-1.89,0.61 L-3.06,4.21 L-0.00,1.99 L3.06,4.21 L1.89,0.61 L4.95,-1.61 L1.17,-1.61 Z" fill="#bdb76b" stroke="#bdb76b" stroke-width="1.2" stroke-linejoin="miter"/>
<path transform="translate(421.45,246.88)" d="M0.00,-5.20 L-1.17,-1.61 L-4.95,-1.61 L-1.89,0.61 L-3.06,4.21 L-0.00,1.99 L3.06,4.21 L1.89,0.61 L4.95,-1.61 L1.17,-1.61 Z" fill="#bdb76b" stroke="#bdb76b" stroke-width="1.2" stroke-linejoin="miter"/>
<path transform="translate(437.46,245.97)" d="M0.00,-5.20 L-1.17,-1.61 L-4.95,-1.61 L-1.89,0.61 L-3.06,4.21 L-0.00,1.99 L3.06,4.21 L1.89,0.61 L4.95,-1.61 L1.17,-1.61 Z" fill="#bdb76b" stroke="#bdb76b" stroke-width="1.2" stroke-linejoin="miter"/>
<path transform="translate(453.48,244.15)" d="M0.00,-5.20 L-1.17,-1.61 L-4.95,-1.61 L-1.89,0.61 L-3.06,4.21 L-0.00,1.99 L3.06,4.21 L1.89,0.61 L4.95,-1.61 L1.17,-1.61 Z" fill="#bdb76b" stroke="#bdb76b" stroke-width="1.2" stroke-linejoin="miter"/>
<path transform="translate(469.49,244.15)" d="M0.00,-5.20 L-1.17,-1.61 L-4.95,-1.61 L-1.89,0.61 L-3.06,4.21 L-0.00,1.99 L3.06,4.21 L1.89,0.61 L4.95,-1.61 L1.17,-1.61 Z" fill="#bdb76b" stroke="#bdb76b" stroke-width="1.2" stroke-linejoin="miter"/>
<path transform="translate(485.50,244.15)" d="M0.00,-5.20 L-1.17,-1.61 L-4.95,-1.61 L-1.89,0.61 L-3.06,4.21 L-0.00,1.99 L3.06,4.21 L1.89,0.61 L4.95,-1.61 L1.17,-1.61 Z" fill="#bdb76b" stroke="#bdb76b" stroke-width="1.2" stroke-linejoin="miter"/>
</g>
<g clip-path="url(#c1)">
<polyline points="101.21,263.74 117.22,257.51 133.24,250.37 149.25,243.69 165.26,236.40 181.27,229.72 197.28,221.51 213.30,213.31 229.31,205.72 245.32,197.82 261.33,189.16 277.34,181.11 293.36,172.60 309.37,163.64 325.38,155.59 341.39,149.06 357.40,142.37 373.42,135.99 389.43,129.77 405.44,124.90 421.45,121.41 437.46,118.07 453.48,115.64 469.49,113.97 485.50,113.06" fill="none" stroke="#000000" stroke-width="2.3" stroke-linejoin="round" stroke-linecap="square"/>
<path transform="translate(101.21,263.74)" d="M0.00,-6.00 L-5.71,-1.85 L-3.53,4.85 L3.53,4.85 L5.71,-1.85 Z" fill="#000000" stroke="#000000" stroke-width="1.2" stroke-linejoin="miter"/>
<path transform="translate(117.22,257.51)" d="M0.00,-6.00 L-5.71,-1.85 L-3.53,4.85 L3.53,4.85 L5.71,-1.85 Z" fill="#000000" stroke="#000000" stroke-width="1.2" stroke-linejoin="miter"/>
<path transform="translate(133.24,250.37)" d="M0.00,-6.00 L-5.71,-1.85 L-3.53,4.85 L3.53,4.85 L5.71,-1.85 Z" fill="#000000" stroke="#000000" stroke-width="1.2" stroke-linejoin="miter"/>
<path transform="translate(149.25,243.69)" d="M0.00,-6.00 L-5.71,-1.85 L-3.53,4.85 L3.53,4.85 L5.71,-1.85 Z" fill="#000000" stroke="#000000" stroke-width="1.2" stroke-linejoin="miter"/>
<path transform="translate(165.26,236.40)" d="M0.00,-6.00 L-5.71,-1.85 L-3.53,4.85 L3.53,4.85 L5.71,-1.85 Z" fill="#000000" stroke="#000000" stroke-width="1.2" stroke-linejoin="miter"/>
<path transform="translate(181.27,229.72)" d="M0.00,-6.00 L-5.71,-1.85 L-3.53,4.85 L3.53,4.85 L5.71,-1.85 Z" fill="#000000" stroke="#000000" stroke-width="1.2" stroke-linejoin="miter"/>
<path transform="translate(197.28,221.51)" d="M0.00,-6.00 L-5.71,-1.85 L-3.53,4.85 L3.53,4.85 L5.71,-1.85 Z" fill="#000000" stroke="#000000" stroke-width="1.2" stroke-linejoin="miter"/>
<path transform="translate(213.30,213.31)" d="M0.00,-6.00 L-5.71,-1.85 L-3.53,4.85 L3.53,4.85 L5.71,-1.85 Z" fill="#000000" stroke="#000000" stroke-width="1.2" stroke-linejoin="miter"/>
<path transform="translate(229.31,205.72)" d="M0.00,-6.00 L-5.71,-1.85 L-3.53,4.85 L3.53,4.85 L5.71,-1.85 Z" fill="#000000" stroke="#000000" stroke-width="1.2" stroke-linejoin="miter"/>
<path transform="translate(245.32,197.82)" d="M0.00,-6.00 L-5.71,-1.85 L-3.53,4.85 L3.53,4.85 L5.71,-1.85 Z" fill="#000000" stroke="#000000" stroke-width="1.2" stroke-linejoin="miter"/>
<path transform="translate(261.33,189.16)" d="M0.00,-6.00 L-5.71,-1.85 L-3.53,4.85 L3.53,4.85 L5.71,-1.85 Z" fill="#000000" stroke="#000000" stroke-width="1.2" stroke-linejoin="miter"/>
<path transform="translate(277.34,181.11)" d="M0.00,-6.00 L-5.71,-1.85 L-3.53,4.85 L3.53,4.85 L5.71,-1.85 Z" fill="#000000" stroke="#000000" stroke-width="1.2" stroke-linejoin="miter"/>
<path transform="translate(293.36,172.60)" d="M0.00,-6.00 L-5.71,-1.85 L-3.53,4.85 L3.53,4.85 L5.71,-1.85 Z" fill="#000000" stroke="#000000" stroke-width="1.2" stroke-linejoin="miter"/>
<path transform="translate(309.37,163.64)" d="M0.00,-6.00 L-5.71,-1.85 L-3.53,4.85 L3.53,4.85 L5.71,-1.85 Z" fill="#000000" stroke="#000000" stroke-width="1.2" stroke-linejoin="miter"/>
<path transform="translate(325.38,155.59)" d="M0.00,-6.00 L-5.71,-1.85 L-3.53,4.85 L3.53,4.85 L5.71,-1.85 Z" fill="#000000" stroke="#000000" stroke-width="1.2" stroke-linejoin="miter"/>
<path transform="translate(341.39,149.06)" d="M0.00,-6.00 L-5.71,-1.85 L-3.53,4.85 L3.53,4.85 L5.71,-1.85 Z" fill="#000000" stroke="#000000" stroke-width="1.2" stroke-linejoin="miter"/>
<path transform="translate(357.40,142.37)" d="M0.00,-6.00 L-5.71,-1.85 L-3.53,4.85 L3.53,4.85 L5.71,-1.85 Z" fill="#000000" stroke="#000000" stroke-width="1.2" stroke-linejoin="miter"/>
<path transform="translate(373.42,135.99)" d="M0.00,-6.00 L-5.71,-1.85 L-3.53,4.85 L3.53,4.85 L5.71,-1.85 Z" fill="#000000" stroke="#000000" stroke-width="1.2" stroke-linejoin="miter"/>
<path transform="translate(389.43,129.77)" d="M0.00,-6.00 L-5.71,-1.85 L-3.53,4.85 L3.53,4.85 L5.71,-1.85 Z" fill="#000000" stroke="#000000" stroke-width="1.2" stroke-linejoin="miter"/>
<path transform="translate(405.44,124.90)" d="M0.00,-6.00 L-5.71,-1.85 L-3.53,4.85 L3.53,4.85 L5.71,-1.85 Z" fill="#000000" stroke="#000000" stroke-width="1.2" stroke-linejoin="miter"/>
<path transform="translate(421.45,121.41)" d="M0.00,-6.00 L-5.71,-1.85 L-3.53,4.85 L3.53,4.85 L5.71,-1.85 Z" fill="#000000" stroke="#000000" stroke-width="1.2" stroke-linejoin="miter"/>
<path transform="translate(437.46,118.07)" d="M0.00,-6.00 L-5.71,-1.85 L-3.53,4.85 L3.53,4.85 L5.71,-1.85 Z" fill="#000000" stroke="#000000" stroke-width="1.2" stroke-linejoin="miter"/>
<path transform="translate(453.48,115.64)" d="M0.00,-6.00 L-5.71,-1.85 L-3.53,4.85 L3.53,4.85 L5.71,-1.85 Z" fill="#000000" stroke="#000000" stroke-width="1.2" stroke-linejoin="miter"/>
<path transform="translate(469.49,113.97)" d="M0.00,-6.00 L-5.71,-1.85 L-3.53,4.85 L3.53,4.85 L5.71,-1.85 Z" fill="#000000" stroke="#000000" stroke-width="1.2" stroke-linejoin="miter"/>
<path transform="translate(485.50,113.06)" d="M0.00,-6.00 L-5.71,-1.85 L-3.53,4.85 L3.53,4.85 L5.71,-1.85 Z" fill="#000000" stroke="#000000" stroke-width="1.2" stroke-linejoin="miter"/>
</g>
<rect x="82.40" y="69.50" width="422.20" height="224.80" fill="none" stroke="#000" stroke-width="1.3"/>
<line x1="85.20" y1="294.30" x2="85.20" y2="298.80" stroke="#000" stroke-width="1.3"/>
<text x="85.20" y="317.90" font-size="18.50" text-anchor="middle" textLength="29.5" lengthAdjust="spacingAndGlyphs">0.0</text>
<line x1="165.26" y1="294.30" x2="165.26" y2="298.80" stroke="#000" stroke-width="1.3"/>
<text x="165.26" y="317.90" font-size="18.50" text-anchor="middle" textLength="29.5" lengthAdjust="spacingAndGlyphs">0.1</text>
<line x1="245.32" y1="294.30" x2="245.32" y2="298.80" stroke="#000" stroke-width="1.3"/>
<text x="245.32" y="317.90" font-size="18.50" text-anchor="middle" textLength="29.5" lengthAdjust="spacingAndGlyphs">0.2</text>
<line x1="325.38" y1="294.30" x2="325.38" y2="298.80" stroke="#000" stroke-width="1.3"/>
<text x="325.38" y="317.90" font-size="18.50" text-anchor="middle" textLength="29.5" lengthAdjust="spacingAndGlyphs">0.3</text>
<line x1="405.44" y1="294.30" x2="405.44" y2="298.80" stroke="#000" stroke-width="1.3"/>
<text x="405.44" y="317.90" font-size="18.50" text-anchor="middle" textLength="29.5" lengthAdjust="spacingAndGlyphs">0.4</text>
<line x1="485.50" y1="294.30" x2="485.50" y2="298.80" stroke="#000" stroke-width="1.3"/>
<text x="485.50" y="317.90" font-size="18.50" text-anchor="middle" textLength="29.5" lengthAdjust="spacingAndGlyphs">0.5</text>
<line x1="77.90" y1="284.40" x2="82.40" y2="284.40" stroke="#000" stroke-width="1.3"/>
<text x="72.90" y="291.00" font-size="18.50" text-anchor="end" textLength="39.0" lengthAdjust="spacingAndGlyphs">0.00</text>
<line x1="77.90" y1="246.42" x2="82.40" y2="246.42" stroke="#000" stroke-width="1.3"/>
<text x="72.90" y="253.02" font-size="18.50" text-anchor="end" textLength="39.0" lengthAdjust="spacingAndGlyphs">0.25</text>
<line x1="77.90" y1="208.45" x2="82.40" y2="208.45" stroke="#000" stroke-width="1.3"/>
<text x="72.90" y="215.05" font-size="18.50" text-anchor="end" textLength="39.0" lengthAdjust="spacingAndGlyphs">0.50</text>
<line x1="77.90" y1="170.47" x2="82.40" y2="170.47" stroke="#000" stroke-width="1.3"/>
<text x="72.90" y="177.07" font-size="18.50" text-anchor="end" textLength="39.0" lengthAdjust="spacingAndGlyphs">0.75</text>
<line x1="77.90" y1="132.50" x2="82.40" y2="132.50" stroke="#000" stroke-width="1.3"/>
<text x="72.90" y="139.10" font-size="18.50" text-anchor="end" textLength="39.0" lengthAdjust="spacingAndGlyphs">1.00</text>
<line x1="77.90" y1="94.52" x2="82.40" y2="94.52" stroke="#000" stroke-width="1.3"/>
<text x="72.90" y="101.12" font-size="18.50" text-anchor="end" textLength="39.0" lengthAdjust="spacingAndGlyphs">1.25</text>
<rect x="50.0" y="10.3" width="493.2" height="49.2" rx="3.5" fill="#808080" fill-opacity="0.75" filter="url(#blur1)"/>
<rect x="46.8" y="7.3" width="493.2" height="49.2" rx="3" fill="#ffffff" stroke="#d0d0d0" stroke-width="1"/>
<line x1="51.90" y1="19.60" x2="84.90" y2="19.60" stroke="#0000ff" stroke-width="2.5"/>
<circle cx="68.40" cy="19.60" r="3.75" fill="#0000ff"/>
<text x="96.30" y="25.20" font-size="15.50" text-anchor="start" textLength="31.2" lengthAdjust="spacingAndGlyphs">MLE</text>
<line x1="51.90" y1="42.40" x2="84.90" y2="42.40" stroke="#ff8c00" stroke-width="2.5"/>
<circle cx="68.40" cy="42.40" r="6.50" fill="#ff8c00"/>
<text x="96.30" y="48.00" font-size="15.50" text-anchor="start" textLength="26.2" lengthAdjust="spacingAndGlyphs">MM</text>
<line x1="157.30" y1="19.60" x2="190.30" y2="19.60" stroke="#008000" stroke-width="2.5"/>
<path transform="translate(173.80,19.60)" d="M-6.00,0 L6.00,0 M0,-6.00 L0,6.00" stroke="#008000" stroke-width="1.8" fill="none"/>
<text x="201.10" y="25.20" font-size="15.50" text-anchor="start" textLength="20.3" lengthAdjust="spacingAndGlyphs">CS</text>
<line x1="157.30" y1="42.40" x2="190.30" y2="42.40" stroke="#ff0000" stroke-width="2.5"/>
<path transform="translate(173.80,42.40)" d="M-6.00,-6.00 L6.00,6.00 M-6.00,6.00 L6.00,-6.00" stroke="#ff0000" stroke-width="2" fill="none"/>
<text x="201.10" y="48.00" font-size="15.50" text-anchor="start" textLength="21.2" lengthAdjust="spacingAndGlyphs">CC</text>
<line x1="252.20" y1="19.60" x2="285.20" y2="19.60" stroke="#800080" stroke-width="2.5"/>
<path transform="translate(268.70,19.60)" d="M0.00,6.00 L6.00,-6.00 L-6.00,-6.00 Z" fill="#800080" stroke="#800080" stroke-width="1.2" stroke-linejoin="miter"/>
<text x="296.50" y="25.20" font-size="15.50" text-anchor="start" textLength="11.8" lengthAdjust="spacingAndGlyphs">G</text>
<line x1="252.20" y1="42.40" x2="285.20" y2="42.40" stroke="#a52a2a" stroke-width="2.5"/>
<path transform="translate(268.70,42.40)" d="M0.00,-6.00 L-6.00,6.00 L6.00,6.00 Z" fill="#a52a2a" stroke="#a52a2a" stroke-width="1.2" stroke-linejoin="miter"/>
<text x="296.50" y="48.00" font-size="15.50" text-anchor="start" textLength="31.4" lengthAdjust="spacingAndGlyphs">NSB</text>
<line x1="357.50" y1="19.60" x2="390.50" y2="19.60" stroke="#ff69b4" stroke-width="2.5"/>
<path transform="translate(374.00,19.60)" d="M-6.00,0.00 L6.00,6.00 L6.00,-6.00 Z" fill="#ff69b4" stroke="#ff69b4" stroke-width="1.2" stroke-linejoin="miter"/>
<text x="401.70" y="25.20" font-size="15.50" text-anchor="start" textLength="21.1" lengthAdjust="spacingAndGlyphs">SH</text>
<line x1="357.50" y1="42.40" x2="390.50" y2="42.40" stroke="#a9a9a9" stroke-width="2.5"/>
<path transform="translate(374.00,42.40)" d="M6.00,-0.00 L-6.00,-6.00 L-6.00,6.00 Z" fill="#a9a9a9" stroke="#a9a9a9" stroke-width="1.2" stroke-linejoin="miter"/>
<text x="401.70" y="48.00" font-size="15.50" text-anchor="start" textLength="10.4" lengthAdjust="spacingAndGlyphs">B</text>
<line x1="452.40" y1="19.60" x2="485.40" y2="19.60" stroke="#bdb76b" stroke-width="2.5"/>
<path transform="translate(468.90,19.60)" d="M0.00,-5.20 L-1.17,-1.61 L-4.95,-1.61 L-1.89,0.61 L-3.06,4.21 L-0.00,1.99 L3.06,4.21 L1.89,0.61 L4.95,-1.61 L1.17,-1.61 Z" fill="#bdb76b" stroke="#bdb76b" stroke-width="1.2" stroke-linejoin="miter"/>
<text x="496.50" y="25.20" font-size="15.50" text-anchor="start" textLength="10.6" lengthAdjust="spacingAndGlyphs">C</text>
<line x1="452.40" y1="42.40" x2="485.40" y2="42.40" stroke="#000000" stroke-width="2.5"/>
<path transform="translate(468.90,42.40)" d="M0.00,-6.00 L-5.71,-1.85 L-3.53,4.85 L3.53,4.85 L5.71,-1.85 Z" fill="#000000" stroke="#000000" stroke-width="1.2" stroke-linejoin="miter"/>
<text x="496.50" y="48.00" font-size="15.50" text-anchor="start" textLength="36.8" lengthAdjust="spacingAndGlyphs">CMM</text>
<clipPath id="c2"><rect x="72.10" y="448.80" width="438.10" height="227.20"/></clipPath>
<g clip-path="url(#c2)">
<polyline points="91.50,570.05 108.11,546.64 124.71,539.92 141.32,542.09 157.92,546.43 174.52,554.01 191.13,562.03 207.73,569.19 224.34,578.51 240.94,586.74 257.54,593.89 274.15,603.43 290.75,608.42 307.36,617.52 323.96,624.02 340.56,631.61 357.17,637.03 373.77,641.58 390.38,645.70 406.98,649.82 423.58,652.85 440.19,656.10 456.79,657.19 473.40,658.05 490.00,658.05" fill="none" stroke="#0000ff" stroke-width="2.3" stroke-linejoin="round" stroke-linecap="square"/>
<circle cx="91.50" cy="570.05" r="3.75" fill="#0000ff"/>
<circle cx="108.11" cy="546.64" r="3.75" fill="#0000ff"/>
<circle cx="124.71" cy="539.92" r="3.75" fill="#0000ff"/>
<circle cx="141.32" cy="542.09" r="3.75" fill="#0000ff"/>
<circle cx="157.92" cy="546.43" r="3.75" fill="#0000ff"/>
<circle cx="174.52" cy="554.01" r="3.75" fill="#0000ff"/>
<circle cx="191.13" cy="562.03" r="3.75" fill="#0000ff"/>
<circle cx="207.73" cy="569.19" r="3.75" fill="#0000ff"/>
<circle cx="224.34" cy="578.51" r="3.75" fill="#0000ff"/>
<circle cx="240.94" cy="586.74" r="3.75" fill="#0000ff"/>
<circle cx="257.54" cy="593.89" r="3.75" fill="#0000ff"/>
<circle cx="274.15" cy="603.43" r="3.75" fill="#0000ff"/>
<circle cx="290.75" cy="608.42" r="3.75" fill="#0000ff"/>
<circle cx="307.36" cy="617.52" r="3.75" fill="#0000ff"/>
<circle cx="323.96" cy="624.02" r="3.75" fill="#0000ff"/>
<circle cx="340.56" cy="631.61" r="3.75" fill="#0000ff"/>
<circle cx="357.17" cy="637.03" r="3.75" fill="#0000ff"/>
<circle cx="373.77" cy="641.58" r="3.75" fill="#0000ff"/>
<circle cx="390.38" cy="645.70" r="3.75" fill="#0000ff"/>
<circle cx="406.98" cy="649.82" r="3.75" fill="#0000ff"/>
<circle cx="423.58" cy="652.85" r="3.75" fill="#0000ff"/>
<circle cx="440.19" cy="656.10" r="3.75" fill="#0000ff"/>
<circle cx="456.79" cy="657.19" r="3.75" fill="#0000ff"/>
<circle cx="473.40" cy="658.05" r="3.75" fill="#0000ff"/>
<circle cx="490.00" cy="658.05" r="3.75" fill="#0000ff"/>
</g>
<g clip-path="url(#c2)">
<polyline points="91.50,554.01 108.11,529.09 124.71,522.37 141.32,523.02 157.92,527.57 174.52,535.37 191.13,543.83 207.73,550.54 224.34,560.30 240.94,568.75 257.54,575.69 274.15,586.31 290.75,593.24 307.36,601.48 323.96,610.37 340.56,619.04 357.17,622.94 373.77,628.36 390.38,633.78 406.98,637.89 423.58,643.75 440.19,645.70 456.79,647.87 473.40,648.95 490.00,648.95" fill="none" stroke="#ff8c00" stroke-width="2.3" stroke-linejoin="round" stroke-linecap="square"/>
<circle cx="91.50" cy="554.01" r="6.50" fill="#ff8c00"/>
<circle cx="108.11" cy="529.09" r="6.50" fill="#ff8c00"/>
<circle cx="124.71" cy="522.37" r="6.50" fill="#ff8c00"/>
<circle cx="141.32" cy="523.02" r="6.50" fill="#ff8c00"/>
<circle cx="157.92" cy="527.57" r="6.50" fill="#ff8c00"/>
<circle cx="174.52" cy="535.37" r="6.50" fill="#ff8c00"/>
<circle cx="191.13" cy="543.83" r="6.50" fill="#ff8c00"/>
<circle cx="207.73" cy="550.54" r="6.50" fill="#ff8c00"/>
<circle cx="224.34" cy="560.30" r="6.50" fill="#ff8c00"/>
<circle cx="240.94" cy="568.75" r="6.50" fill="#ff8c00"/>
<circle cx="257.54" cy="575.69" r="6.50" fill="#ff8c00"/>
<circle cx="274.15" cy="586.31" r="6.50" fill="#ff8c00"/>
<circle cx="290.75" cy="593.24" r="6.50" fill="#ff8c00"/>
<circle cx="307.36" cy="601.48" r="6.50" fill="#ff8c00"/>
<circle cx="323.96" cy="610.37" r="6.50" fill="#ff8c00"/>
<circle cx="340.56" cy="619.04" r="6.50" fill="#ff8c00"/>
<circle cx="357.17" cy="622.94" r="6.50" fill="#ff8c00"/>
<circle cx="373.77" cy="628.36" r="6.50" fill="#ff8c00"/>
<circle cx="390.38" cy="633.78" r="6.50" fill="#ff8c00"/>
<circle cx="406.98" cy="637.89" r="6.50" fill="#ff8c00"/>
<circle cx="423.58" cy="643.75" r="6.50" fill="#ff8c00"/>
<circle cx="440.19" cy="645.70" r="6.50" fill="#ff8c00"/>
<circle cx="456.79" cy="647.87" r="6.50" fill="#ff8c00"/>
<circle cx="473.40" cy="648.95" r="6.50" fill="#ff8c00"/>
<circle cx="490.00" cy="648.95" r="6.50" fill="#ff8c00"/>
</g>
<g clip-path="url(#c2)">
<polyline points="91.50,517.60 108.11,497.01 124.71,499.17 141.32,507.85 157.92,512.18 174.52,515.43 191.13,516.51 207.73,512.40 224.34,512.40 240.94,509.15 257.54,506.98 274.15,505.68 290.75,498.74 307.36,497.01 323.96,494.41 340.56,492.89 357.17,491.37 373.77,490.94 390.38,491.37 406.98,492.67 423.58,493.54 440.19,491.16 456.79,491.59 473.40,492.02 490.00,492.89" fill="none" stroke="#008000" stroke-width="2.3" stroke-linejoin="round" stroke-linecap="square"/>
<path transform="translate(91.50,517.60)" d="M-6.00,0 L6.00,0 M0,-6.00 L0,6.00" stroke="#008000" stroke-width="1.8" fill="none"/>
<path transform="translate(108.11,497.01)" d="M-6.00,0 L6.00,0 M0,-6.00 L0,6.00" stroke="#008000" stroke-width="1.8" fill="none"/>
<path transform="translate(124.71,499.17)" d="M-6.00,0 L6.00,0 M0,-6.00 L0,6.00" stroke="#008000" stroke-width="1.8" fill="none"/>
<path transform="translate(141.32,507.85)" d="M-6.00,0 L6.00,0 M0,-6.00 L0,6.00" stroke="#008000" stroke-width="1.8" fill="none"/>
<path transform="translate(157.92,512.18)" d="M-6.00,0 L6.00,0 M0,-6.00 L0,6.00" stroke="#008000" stroke-width="1.8" fill="none"/>
<path transform="translate(174.52,515.43)" d="M-6.00,0 L6.00,0 M0,-6.00 L0,6.00" stroke="#008000" stroke-width="1.8" fill="none"/>
<path transform="translate(191.13,516.51)" d="M-6.00,0 L6.00,0 M0,-6.00 L0,6.00" stroke="#008000" stroke-width="1.8" fill="none"/>
<path transform="translate(207.73,512.40)" d="M-6.00,0 L6.00,0 M0,-6.00 L0,6.00" stroke="#008000" stroke-width="1.8" fill="none"/>
<path transform="translate(224.34,512.40)" d="M-6.00,0 L6.00,0 M0,-6.00 L0,6.00" stroke="#008000" stroke-width="1.8" fill="none"/>
<path transform="translate(240.94,509.15)" d="M-6.00,0 L6.00,0 M0,-6.00 L0,6.00" stroke="#008000" stroke-width="1.8" fill="none"/>
<path transform="translate(257.54,506.98)" d="M-6.00,0 L6.00,0 M0,-6.00 L0,6.00" stroke="#008000" stroke-width="1.8" fill="none"/>
<path transform="translate(274.15,505.68)" d="M-6.00,0 L6.00,0 M0,-6.00 L0,6.00" stroke="#008000" stroke-width="1.8" fill="none"/>
<path transform="translate(290.75,498.74)" d="M-6.00,0 L6.00,0 M0,-6.00 L0,6.00" stroke="#008000" stroke-width="1.8" fill="none"/>
<path transform="translate(307.36,497.01)" d="M-6.00,0 L6.00,0 M0,-6.00 L0,6.00" stroke="#008000" stroke-width="1.8" fill="none"/>
<path transform="translate(323.96,494.41)" d="M-6.00,0 L6.00,0 M0,-6.00 L0,6.00" stroke="#008000" stroke-width="1.8" fill="none"/>
<path transform="translate(340.56,492.89)" d="M-6.00,0 L6.00,0 M0,-6.00 L0,6.00" stroke="#008000" stroke-width="1.8" fill="none"/>
<path transform="translate(357.17,491.37)" d="M-6.00,0 L6.00,0 M0,-6.00 L0,6.00" stroke="#008000" stroke-width="1.8" fill="none"/>
<path transform="translate(373.77,490.94)" d="M-6.00,0 L6.00,0 M0,-6.00 L0,6.00" stroke="#008000" stroke-width="1.8" fill="none"/>
<path transform="translate(390.38,491.37)" d="M-6.00,0 L6.00,0 M0,-6.00 L0,6.00" stroke="#008000" stroke-width="1.8" fill="none"/>
<path transform="translate(406.98,492.67)" d="M-6.00,0 L6.00,0 M0,-6.00 L0,6.00" stroke="#008000" stroke-width="1.8" fill="none"/>
<path transform="translate(423.58,493.54)" d="M-6.00,0 L6.00,0 M0,-6.00 L0,6.00" stroke="#008000" stroke-width="1.8" fill="none"/>
<path transform="translate(440.19,491.16)" d="M-6.00,0 L6.00,0 M0,-6.00 L0,6.00" stroke="#008000" stroke-width="1.8" fill="none"/>
<path transform="translate(456.79,491.59)" d="M-6.00,0 L6.00,0 M0,-6.00 L0,6.00" stroke="#008000" stroke-width="1.8" fill="none"/>
<path transform="translate(473.40,492.02)" d="M-6.00,0 L6.00,0 M0,-6.00 L0,6.00" stroke="#008000" stroke-width="1.8" fill="none"/>
<path transform="translate(490.00,492.89)" d="M-6.00,0 L6.00,0 M0,-6.00 L0,6.00" stroke="#008000" stroke-width="1.8" fill="none"/>
</g>
<g clip-path="url(#c2)">
<polyline points="91.50,517.82 108.11,499.17 124.71,498.09 141.32,503.51 157.92,507.85 174.52,514.35 191.13,517.60 207.73,519.98 224.34,523.23 240.94,527.57 257.54,531.90 274.15,534.29 290.75,535.59 307.36,542.09 323.96,547.51 340.56,554.01 357.17,559.43 373.77,564.85 390.38,570.49 406.98,576.55 423.58,580.02 440.19,583.27 456.79,586.31 473.40,587.39 490.00,588.48" fill="none" stroke="#ff0000" stroke-width="2.3" stroke-linejoin="round" stroke-linecap="square"/>
<path transform="translate(91.50,517.82)" d="M-6.00,-6.00 L6.00,6.00 M-6.00,6.00 L6.00,-6.00" stroke="#ff0000" stroke-width="2" fill="none"/>
<path transform="translate(108.11,499.17)" d="M-6.00,-6.00 L6.00,6.00 M-6.00,6.00 L6.00,-6.00" stroke="#ff0000" stroke-width="2" fill="none"/>
<path transform="translate(124.71,498.09)" d="M-6.00,-6.00 L6.00,6.00 M-6.00,6.00 L6.00,-6.00" stroke="#ff0000" stroke-width="2" fill="none"/>
<path transform="translate(141.32,503.51)" d="M-6.00,-6.00 L6.00,6.00 M-6.00,6.00 L6.00,-6.00" stroke="#ff0000" stroke-width="2" fill="none"/>
<path transform="translate(157.92,507.85)" d="M-6.00,-6.00 L6.00,6.00 M-6.00,6.00 L6.00,-6.00" stroke="#ff0000" stroke-width="2" fill="none"/>
<path transform="translate(174.52,514.35)" d="M-6.00,-6.00 L6.00,6.00 M-6.00,6.00 L6.00,-6.00" stroke="#ff0000" stroke-width="2" fill="none"/>
<path transform="translate(191.13,517.60)" d="M-6.00,-6.00 L6.00,6.00 M-6.00,6.00 L6.00,-6.00" stroke="#ff0000" stroke-width="2" fill="none"/>
<path transform="translate(207.73,519.98)" d="M-6.00,-6.00 L6.00,6.00 M-6.00,6.00 L6.00,-6.00" stroke="#ff0000" stroke-width="2" fill="none"/>
<path transform="translate(224.34,523.23)" d="M-6.00,-6.00 L6.00,6.00 M-6.00,6.00 L6.00,-6.00" stroke="#ff0000" stroke-width="2" fill="none"/>
<path transform="translate(240.94,527.57)" d="M-6.00,-6.00 L6.00,6.00 M-6.00,6.00 L6.00,-6.00" stroke="#ff0000" stroke-width="2" fill="none"/>
<path transform="translate(257.54,531.90)" d="M-6.00,-6.00 L6.00,6.00 M-6.00,6.00 L6.00,-6.00" stroke="#ff0000" stroke-width="2" fill="none"/>
<path transform="translate(274.15,534.29)" d="M-6.00,-6.00 L6.00,6.00 M-6.00,6.00 L6.00,-6.00" stroke="#ff0000" stroke-width="2" fill="none"/>
<path transform="translate(290.75,535.59)" d="M-6.00,-6.00 L6.00,6.00 M-6.00,6.00 L6.00,-6.00" stroke="#ff0000" stroke-width="2" fill="none"/>
<path transform="translate(307.36,542.09)" d="M-6.00,-6.00 L6.00,6.00 M-6.00,6.00 L6.00,-6.00" stroke="#ff0000" stroke-width="2" fill="none"/>
<path transform="translate(323.96,547.51)" d="M-6.00,-6.00 L6.00,6.00 M-6.00,6.00 L6.00,-6.00" stroke="#ff0000" stroke-width="2" fill="none"/>
<path transform="translate(340.56,554.01)" d="M-6.00,-6.00 L6.00,6.00 M-6.00,6.00 L6.00,-6.00" stroke="#ff0000" stroke-width="2" fill="none"/>
<path transform="translate(357.17,559.43)" d="M-6.00,-6.00 L6.00,6.00 M-6.00,6.00 L6.00,-6.00" stroke="#ff0000" stroke-width="2" fill="none"/>
<path transform="translate(373.77,564.85)" d="M-6.00,-6.00 L6.00,6.00 M-6.00,6.00 L6.00,-6.00" stroke="#ff0000" stroke-width="2" fill="none"/>
<path transform="translate(390.38,570.49)" d="M-6.00,-6.00 L6.00,6.00 M-6.00,6.00 L6.00,-6.00" stroke="#ff0000" stroke-width="2" fill="none"/>
<path transform="translate(406.98,576.55)" d="M-6.00,-6.00 L6.00,6.00 M-6.00,6.00 L6.00,-6.00" stroke="#ff0000" stroke-width="2" fill="none"/>
<path transform="translate(423.58,580.02)" d="M-6.00,-6.00 L6.00,6.00 M-6.00,6.00 L6.00,-6.00" stroke="#ff0000" stroke-width="2" fill="none"/>
<path transform="translate(440.19,583.27)" d="M-6.00,-6.00 L6.00,6.00 M-6.00,6.00 L6.00,-6.00" stroke="#ff0000" stroke-width="2" fill="none"/>
<path transform="translate(456.79,586.31)" d="M-6.00,-6.00 L6.00,6.00 M-6.00,6.00 L6.00,-6.00" stroke="#ff0000" stroke-width="2" fill="none"/>
<path transform="translate(473.40,587.39)" d="M-6.00,-6.00 L6.00,6.00 M-6.00,6.00 L6.00,-6.00" stroke="#ff0000" stroke-width="2" fill="none"/>
<path transform="translate(490.00,588.48)" d="M-6.00,-6.00 L6.00,6.00 M-6.00,6.00 L6.00,-6.00" stroke="#ff0000" stroke-width="2" fill="none"/>
</g>
<g clip-path="url(#c2)">
<polyline points="91.50,532.99 108.11,516.08 124.71,509.36 141.32,510.01 157.92,513.91 174.52,518.25 191.13,524.32 207.73,528.65 224.34,533.86 240.94,539.27 257.54,541.87 274.15,548.59 290.75,554.23 307.36,562.90 323.96,570.27 340.56,578.94 357.17,586.31 373.77,590.64 390.38,596.06 406.98,602.56 423.58,607.77 440.19,609.93 456.79,612.97 473.40,612.97 490.00,612.97" fill="none" stroke="#800080" stroke-width="2.3" stroke-linejoin="round" stroke-linecap="square"/>
<path transform="translate(91.50,532.99)" d="M0.00,6.00 L6.00,-6.00 L-6.00,-6.00 Z" fill="#800080" stroke="#800080" stroke-width="1.2" stroke-linejoin="miter"/>
<path transform="translate(108.11,516.08)" d="M0.00,6.00 L6.00,-6.00 L-6.00,-6.00 Z" fill="#800080" stroke="#800080" stroke-width="1.2" stroke-linejoin="miter"/>
<path transform="translate(124.71,509.36)" d="M0.00,6.00 L6.00,-6.00 L-6.00,-6.00 Z" fill="#800080" stroke="#800080" stroke-width="1.2" stroke-linejoin="miter"/>
<path transform="translate(141.32,510.01)" d="M0.00,6.00 L6.00,-6.00 L-6.00,-6.00 Z" fill="#800080" stroke="#800080" stroke-width="1.2" stroke-linejoin="miter"/>
<path transform="translate(157.92,513.91)" d="M0.00,6.00 L6.00,-6.00 L-6.00,-6.00 Z" fill="#800080" stroke="#800080" stroke-width="1.2" stroke-linejoin="miter"/>
<path transform="translate(174.52,518.25)" d="M0.00,6.00 L6.00,-6.00 L-6.00,-6.00 Z" fill="#800080" stroke="#800080" stroke-width="1.2" stroke-linejoin="miter"/>
<path transform="translate(191.13,524.32)" d="M0.00,6.00 L6.00,-6.00 L-6.00,-6.00 Z" fill="#800080" stroke="#800080" stroke-width="1.2" stroke-linejoin="miter"/>
<path transform="translate(207.73,528.65)" d="M0.00,6.00 L6.00,-6.00 L-6.00,-6.00 Z" fill="#800080" stroke="#800080" stroke-width="1.2" stroke-linejoin="miter"/>
<path transform="translate(224.34,533.86)" d="M0.00,6.00 L6.00,-6.00 L-6.00,-6.00 Z" fill="#800080" stroke="#800080" stroke-width="1.2" stroke-linejoin="miter"/>
<path transform="translate(240.94,539.27)" d="M0.00,6.00 L6.00,-6.00 L-6.00,-6.00 Z" fill="#800080" stroke="#800080" stroke-width="1.2" stroke-linejoin="miter"/>
<path transform="translate(257.54,541.87)" d="M0.00,6.00 L6.00,-6.00 L-6.00,-6.00 Z" fill="#800080" stroke="#800080" stroke-width="1.2" stroke-linejoin="miter"/>
<path transform="translate(274.15,548.59)" d="M0.00,6.00 L6.00,-6.00 L-6.00,-6.00 Z" fill="#800080" stroke="#800080" stroke-width="1.2" stroke-linejoin="miter"/>
<path transform="translate(290.75,554.23)" d="M0.00,6.00 L6.00,-6.00 L-6.00,-6.00 Z" fill="#800080" stroke="#800080" stroke-width="1.2" stroke-linejoin="miter"/>
<path transform="translate(307.36,562.90)" d="M0.00,6.00 L6.00,-6.00 L-6.00,-6.00 Z" fill="#800080" stroke="#800080" stroke-width="1.2" stroke-linejoin="miter"/>
<path transform="translate(323.96,570.27)" d="M0.00,6.00 L6.00,-6.00 L-6.00,-6.00 Z" fill="#800080" stroke="#800080" stroke-width="1.2" stroke-linejoin="miter"/>
<path transform="translate(340.56,578.94)" d="M0.00,6.00 L6.00,-6.00 L-6.00,-6.00 Z" fill="#800080" stroke="#800080" stroke-width="1.2" stroke-linejoin="miter"/>
<path transform="translate(357.17,586.31)" d="M0.00,6.00 L6.00,-6.00 L-6.00,-6.00 Z" fill="#800080" stroke="#800080" stroke-width="1.2" stroke-linejoin="miter"/>
<path transform="translate(373.77,590.64)" d="M0.00,6.00 L6.00,-6.00 L-6.00,-6.00 Z" fill="#800080" stroke="#800080" stroke-width="1.2" stroke-linejoin="miter"/>
<path transform="translate(390.38,596.06)" d="M0.00,6.00 L6.00,-6.00 L-6.00,-6.00 Z" fill="#800080" stroke="#800080" stroke-width="1.2" stroke-linejoin="miter"/>
<path transform="translate(406.98,602.56)" d="M0.00,6.00 L6.00,-6.00 L-6.00,-6.00 Z" fill="#800080" stroke="#800080" stroke-width="1.2" stroke-linejoin="miter"/>
<path transform="translate(423.58,607.77)" d="M0.00,6.00 L6.00,-6.00 L-6.00,-6.00 Z" fill="#800080" stroke="#800080" stroke-width="1.2" stroke-linejoin="miter"/>
<path transform="translate(440.19,609.93)" d="M0.00,6.00 L6.00,-6.00 L-6.00,-6.00 Z" fill="#800080" stroke="#800080" stroke-width="1.2" stroke-linejoin="miter"/>
<path transform="translate(456.79,612.97)" d="M0.00,6.00 L6.00,-6.00 L-6.00,-6.00 Z" fill="#800080" stroke="#800080" stroke-width="1.2" stroke-linejoin="miter"/>
<path transform="translate(473.40,612.97)" d="M0.00,6.00 L6.00,-6.00 L-6.00,-6.00 Z" fill="#800080" stroke="#800080" stroke-width="1.2" stroke-linejoin="miter"/>
<path transform="translate(490.00,612.97)" d="M0.00,6.00 L6.00,-6.00 L-6.00,-6.00 Z" fill="#800080" stroke="#800080" stroke-width="1.2" stroke-linejoin="miter"/>
</g>
<g clip-path="url(#c2)">
<polyline points="91.50,537.54 108.11,508.93 124.71,502.43 141.32,504.38 157.92,505.68 174.52,509.58 191.13,513.91 207.73,519.77 224.34,530.39 240.94,538.41 257.54,545.56 274.15,552.28 290.75,561.60 307.36,576.12 323.96,589.13 340.56,600.61 357.17,607.55 373.77,615.35 390.38,621.86 406.98,630.31 423.58,635.94 440.19,639.20 456.79,641.15 473.40,642.23 490.00,643.31" fill="none" stroke="#a52a2a" stroke-width="2.3" stroke-linejoin="round" stroke-linecap="square"/>
<path transform="translate(91.50,537.54)" d="M0.00,-6.00 L-6.00,6.00 L6.00,6.00 Z" fill="#a52a2a" stroke="#a52a2a" stroke-width="1.2" stroke-linejoin="miter"/>
<path transform="translate(108.11,508.93)" d="M0.00,-6.00 L-6.00,6.00 L6.00,6.00 Z" fill="#a52a2a" stroke="#a52a2a" stroke-width="1.2" stroke-linejoin="miter"/>
<path transform="translate(124.71,502.43)" d="M0.00,-6.00 L-6.00,6.00 L6.00,6.00 Z" fill="#a52a2a" stroke="#a52a2a" stroke-width="1.2" stroke-linejoin="miter"/>
<path transform="translate(141.32,504.38)" d="M0.00,-6.00 L-6.00,6.00 L6.00,6.00 Z" fill="#a52a2a" stroke="#a52a2a" stroke-width="1.2" stroke-linejoin="miter"/>
<path transform="translate(157.92,505.68)" d="M0.00,-6.00 L-6.00,6.00 L6.00,6.00 Z" fill="#a52a2a" stroke="#a52a2a" stroke-width="1.2" stroke-linejoin="miter"/>
<path transform="translate(174.52,509.58)" d="M0.00,-6.00 L-6.00,6.00 L6.00,6.00 Z" fill="#a52a2a" stroke="#a52a2a" stroke-width="1.2" stroke-linejoin="miter"/>
<path transform="translate(191.13,513.91)" d="M0.00,-6.00 L-6.00,6.00 L6.00,6.00 Z" fill="#a52a2a" stroke="#a52a2a" stroke-width="1.2" stroke-linejoin="miter"/>
<path transform="translate(207.73,519.77)" d="M0.00,-6.00 L-6.00,6.00 L6.00,6.00 Z" fill="#a52a2a" stroke="#a52a2a" stroke-width="1.2" stroke-linejoin="miter"/>
<path transform="translate(224.34,530.39)" d="M0.00,-6.00 L-6.00,6.00 L6.00,6.00 Z" fill="#a52a2a" stroke="#a52a2a" stroke-width="1.2" stroke-linejoin="miter"/>
<path transform="translate(240.94,538.41)" d="M0.00,-6.00 L-6.00,6.00 L6.00,6.00 Z" fill="#a52a2a" stroke="#a52a2a" stroke-width="1.2" stroke-linejoin="miter"/>
<path transform="translate(257.54,545.56)" d="M0.00,-6.00 L-6.00,6.00 L6.00,6.00 Z" fill="#a52a2a" stroke="#a52a2a" stroke-width="1.2" stroke-linejoin="miter"/>
<path transform="translate(274.15,552.28)" d="M0.00,-6.00 L-6.00,6.00 L6.00,6.00 Z" fill="#a52a2a" stroke="#a52a2a" stroke-width="1.2" stroke-linejoin="miter"/>
<path transform="translate(290.75,561.60)" d="M0.00,-6.00 L-6.00,6.00 L6.00,6.00 Z" fill="#a52a2a" stroke="#a52a2a" stroke-width="1.2" stroke-linejoin="miter"/>
<path transform="translate(307.36,576.12)" d="M0.00,-6.00 L-6.00,6.00 L6.00,6.00 Z" fill="#a52a2a" stroke="#a52a2a" stroke-width="1.2" stroke-linejoin="miter"/>
<path transform="translate(323.96,589.13)" d="M0.00,-6.00 L-6.00,6.00 L6.00,6.00 Z" fill="#a52a2a" stroke="#a52a2a" stroke-width="1.2" stroke-linejoin="miter"/>
<path transform="translate(340.56,600.61)" d="M0.00,-6.00 L-6.00,6.00 L6.00,6.00 Z" fill="#a52a2a" stroke="#a52a2a" stroke-width="1.2" stroke-linejoin="miter"/>
<path transform="translate(357.17,607.55)" d="M0.00,-6.00 L-6.00,6.00 L6.00,6.00 Z" fill="#a52a2a" stroke="#a52a2a" stroke-width="1.2" stroke-linejoin="miter"/>
<path transform="translate(373.77,615.35)" d="M0.00,-6.00 L-6.00,6.00 L6.00,6.00 Z" fill="#a52a2a" stroke="#a52a2a" stroke-width="1.2" stroke-linejoin="miter"/>
<path transform="translate(390.38,621.86)" d="M0.00,-6.00 L-6.00,6.00 L6.00,6.00 Z" fill="#a52a2a" stroke="#a52a2a" stroke-width="1.2" stroke-linejoin="miter"/>
<path transform="translate(406.98,630.31)" d="M0.00,-6.00 L-6.00,6.00 L6.00,6.00 Z" fill="#a52a2a" stroke="#a52a2a" stroke-width="1.2" stroke-linejoin="miter"/>
<path transform="translate(423.58,635.94)" d="M0.00,-6.00 L-6.00,6.00 L6.00,6.00 Z" fill="#a52a2a" stroke="#a52a2a" stroke-width="1.2" stroke-linejoin="miter"/>
<path transform="translate(440.19,639.20)" d="M0.00,-6.00 L-6.00,6.00 L6.00,6.00 Z" fill="#a52a2a" stroke="#a52a2a" stroke-width="1.2" stroke-linejoin="miter"/>
<path transform="translate(456.79,641.15)" d="M0.00,-6.00 L-6.00,6.00 L6.00,6.00 Z" fill="#a52a2a" stroke="#a52a2a" stroke-width="1.2" stroke-linejoin="miter"/>
<path transform="translate(473.40,642.23)" d="M0.00,-6.00 L-6.00,6.00 L6.00,6.00 Z" fill="#a52a2a" stroke="#a52a2a" stroke-width="1.2" stroke-linejoin="miter"/>
<path transform="translate(490.00,643.31)" d="M0.00,-6.00 L-6.00,6.00 L6.00,6.00 Z" fill="#a52a2a" stroke="#a52a2a" stroke-width="1.2" stroke-linejoin="miter"/>
</g>
<g clip-path="url(#c2)">
<polyline points="91.50,524.32 108.11,484.00 124.71,465.58 141.32,458.86 157.92,457.78 174.52,465.58 191.13,476.42 207.73,485.09 224.34,499.39 240.94,515.65 257.54,529.74 274.15,547.29 290.75,560.73 307.36,580.46 323.96,592.38 340.56,608.63 357.17,617.52 373.77,627.27 390.38,635.73 406.98,644.40 423.58,655.02 440.19,659.14 456.79,663.47 473.40,665.42 490.00,664.34" fill="none" stroke="#ff69b4" stroke-width="2.3" stroke-linejoin="round" stroke-linecap="square"/>
<path transform="translate(91.50,524.32)" d="M-6.00,0.00 L6.00,6.00 L6.00,-6.00 Z" fill="#ff69b4" stroke="#ff69b4" stroke-width="1.2" stroke-linejoin="miter"/>
<path transform="translate(108.11,484.00)" d="M-6.00,0.00 L6.00,6.00 L6.00,-6.00 Z" fill="#ff69b4" stroke="#ff69b4" stroke-width="1.2" stroke-linejoin="miter"/>
<path transform="translate(124.71,465.58)" d="M-6.00,0.00 L6.00,6.00 L6.00,-6.00 Z" fill="#ff69b4" stroke="#ff69b4" stroke-width="1.2" stroke-linejoin="miter"/>
<path transform="translate(141.32,458.86)" d="M-6.00,0.00 L6.00,6.00 L6.00,-6.00 Z" fill="#ff69b4" stroke="#ff69b4" stroke-width="1.2" stroke-linejoin="miter"/>
<path transform="translate(157.92,457.78)" d="M-6.00,0.00 L6.00,6.00 L6.00,-6.00 Z" fill="#ff69b4" stroke="#ff69b4" stroke-width="1.2" stroke-linejoin="miter"/>
<path transform="translate(174.52,465.58)" d="M-6.00,0.00 L6.00,6.00 L6.00,-6.00 Z" fill="#ff69b4" stroke="#ff69b4" stroke-width="1.2" stroke-linejoin="miter"/>
<path transform="translate(191.13,476.42)" d="M-6.00,0.00 L6.00,6.00 L6.00,-6.00 Z" fill="#ff69b4" stroke="#ff69b4" stroke-width="1.2" stroke-linejoin="miter"/>
<path transform="translate(207.73,485.09)" d="M-6.00,0.00 L6.00,6.00 L6.00,-6.00 Z" fill="#ff69b4" stroke="#ff69b4" stroke-width="1.2" stroke-linejoin="miter"/>
<path transform="translate(224.34,499.39)" d="M-6.00,0.00 L6.00,6.00 L6.00,-6.00 Z" fill="#ff69b4" stroke="#ff69b4" stroke-width="1.2" stroke-linejoin="miter"/>
<path transform="translate(240.94,515.65)" d="M-6.00,0.00 L6.00,6.00 L6.00,-6.00 Z" fill="#ff69b4" stroke="#ff69b4" stroke-width="1.2" stroke-linejoin="miter"/>
<path transform="translate(257.54,529.74)" d="M-6.00,0.00 L6.00,6.00 L6.00,-6.00 Z" fill="#ff69b4" stroke="#ff69b4" stroke-width="1.2" stroke-linejoin="miter"/>
<path transform="translate(274.15,547.29)" d="M-6.00,0.00 L6.00,6.00 L6.00,-6.00 Z" fill="#ff69b4" stroke="#ff69b4" stroke-width="1.2" stroke-linejoin="miter"/>
<path transform="translate(290.75,560.73)" d="M-6.00,0.00 L6.00,6.00 L6.00,-6.00 Z" fill="#ff69b4" stroke="#ff69b4" stroke-width="1.2" stroke-linejoin="miter"/>
<path transform="translate(307.36,580.46)" d="M-6.00,0.00 L6.00,6.00 L6.00,-6.00 Z" fill="#ff69b4" stroke="#ff69b4" stroke-width="1.2" stroke-linejoin="miter"/>
<path transform="translate(323.96,592.38)" d="M-6.00,0.00 L6.00,6.00 L6.00,-6.00 Z" fill="#ff69b4" stroke="#ff69b4" stroke-width="1.2" stroke-linejoin="miter"/>
<path transform="translate(340.56,608.63)" d="M-6.00,0.00 L6.00,6.00 L6.00,-6.00 Z" fill="#ff69b4" stroke="#ff69b4" stroke-width="1.2" stroke-linejoin="miter"/>
<path transform="translate(357.17,617.52)" d="M-6.00,0.00 L6.00,6.00 L6.00,-6.00 Z" fill="#ff69b4" stroke="#ff69b4" stroke-width="1.2" stroke-linejoin="miter"/>
<path transform="translate(373.77,627.27)" d="M-6.00,0.00 L6.00,6.00 L6.00,-6.00 Z" fill="#ff69b4" stroke="#ff69b4" stroke-width="1.2" stroke-linejoin="miter"/>
<path transform="translate(390.38,635.73)" d="M-6.00,0.00 L6.00,6.00 L6.00,-6.00 Z" fill="#ff69b4" stroke="#ff69b4" stroke-width="1.2" stroke-linejoin="miter"/>
<path transform="translate(406.98,644.40)" d="M-6.00,0.00 L6.00,6.00 L6.00,-6.00 Z" fill="#ff69b4" stroke="#ff69b4" stroke-width="1.2" stroke-linejoin="miter"/>
<path transform="translate(423.58,655.02)" d="M-6.00,0.00 L6.00,6.00 L6.00,-6.00 Z" fill="#ff69b4" stroke="#ff69b4" stroke-width="1.2" stroke-linejoin="miter"/>
<path transform="translate(440.19,659.14)" d="M-6.00,0.00 L6.00,6.00 L6.00,-6.00 Z" fill="#ff69b4" stroke="#ff69b4" stroke-width="1.2" stroke-linejoin="miter"/>
<path transform="translate(456.79,663.47)" d="M-6.00,0.00 L6.00,6.00 L6.00,-6.00 Z" fill="#ff69b4" stroke="#ff69b4" stroke-width="1.2" stroke-linejoin="miter"/>
<path transform="translate(473.40,665.42)" d="M-6.00,0.00 L6.00,6.00 L6.00,-6.00 Z" fill="#ff69b4" stroke="#ff69b4" stroke-width="1.2" stroke-linejoin="miter"/>
<path transform="translate(490.00,664.34)" d="M-6.00,0.00 L6.00,6.00 L6.00,-6.00 Z" fill="#ff69b4" stroke="#ff69b4" stroke-width="1.2" stroke-linejoin="miter"/>
</g>
<g clip-path="url(#c2)">
<polyline points="91.50,547.08 108.11,522.15 124.71,515.43 141.32,517.17 157.92,521.07 174.52,526.27 191.13,532.12 207.73,537.32 224.34,543.18 240.94,550.11 257.54,554.88 274.15,562.03 290.75,568.10 307.36,577.21 323.96,583.71 340.56,592.38 357.17,599.31 373.77,604.73 390.38,611.23 406.98,616.65 423.58,620.12 440.19,623.37 456.79,625.32 473.40,626.41 490.00,627.49" fill="none" stroke="#a9a9a9" stroke-width="2.3" stroke-linejoin="round" stroke-linecap="square"/>
<path transform="translate(91.50,547.08)" d="M6.00,-0.00 L-6.00,-6.00 L-6.00,6.00 Z" fill="#a9a9a9" stroke="#a9a9a9" stroke-width="1.2" stroke-linejoin="miter"/>
<path transform="translate(108.11,522.15)" d="M6.00,-0.00 L-6.00,-6.00 L-6.00,6.00 Z" fill="#a9a9a9" stroke="#a9a9a9" stroke-width="1.2" stroke-linejoin="miter"/>
<path transform="translate(124.71,515.43)" d="M6.00,-0.00 L-6.00,-6.00 L-6.00,6.00 Z" fill="#a9a9a9" stroke="#a9a9a9" stroke-width="1.2" stroke-linejoin="miter"/>
<path transform="translate(141.32,517.17)" d="M6.00,-0.00 L-6.00,-6.00 L-6.00,6.00 Z" fill="#a9a9a9" stroke="#a9a9a9" stroke-width="1.2" stroke-linejoin="miter"/>
<path transform="translate(157.92,521.07)" d="M6.00,-0.00 L-6.00,-6.00 L-6.00,6.00 Z" fill="#a9a9a9" stroke="#a9a9a9" stroke-width="1.2" stroke-linejoin="miter"/>
<path transform="translate(174.52,526.27)" d="M6.00,-0.00 L-6.00,-6.00 L-6.00,6.00 Z" fill="#a9a9a9" stroke="#a9a9a9" stroke-width="1.2" stroke-linejoin="miter"/>
<path transform="translate(191.13,532.12)" d="M6.00,-0.00 L-6.00,-6.00 L-6.00,6.00 Z" fill="#a9a9a9" stroke="#a9a9a9" stroke-width="1.2" stroke-linejoin="miter"/>
<path transform="translate(207.73,537.32)" d="M6.00,-0.00 L-6.00,-6.00 L-6.00,6.00 Z" fill="#a9a9a9" stroke="#a9a9a9" stroke-width="1.2" stroke-linejoin="miter"/>
<path transform="translate(224.34,543.18)" d="M6.00,-0.00 L-6.00,-6.00 L-6.00,6.00 Z" fill="#a9a9a9" stroke="#a9a9a9" stroke-width="1.2" stroke-linejoin="miter"/>
<path transform="translate(240.94,550.11)" d="M6.00,-0.00 L-6.00,-6.00 L-6.00,6.00 Z" fill="#a9a9a9" stroke="#a9a9a9" stroke-width="1.2" stroke-linejoin="miter"/>
<path transform="translate(257.54,554.88)" d="M6.00,-0.00 L-6.00,-6.00 L-6.00,6.00 Z" fill="#a9a9a9" stroke="#a9a9a9" stroke-width="1.2" stroke-linejoin="miter"/>
<path transform="translate(274.15,562.03)" d="M6.00,-0.00 L-6.00,-6.00 L-6.00,6.00 Z" fill="#a9a9a9" stroke="#a9a9a9" stroke-width="1.2" stroke-linejoin="miter"/>
<path transform="translate(290.75,568.10)" d="M6.00,-0.00 L-6.00,-6.00 L-6.00,6.00 Z" fill="#a9a9a9" stroke="#a9a9a9" stroke-width="1.2" stroke-linejoin="miter"/>
<path transform="translate(307.36,577.21)" d="M6.00,-0.00 L-6.00,-6.00 L-6.00,6.00 Z" fill="#a9a9a9" stroke="#a9a9a9" stroke-width="1.2" stroke-linejoin="miter"/>
<path transform="translate(323.96,583.71)" d="M6.00,-0.00 L-6.00,-6.00 L-6.00,6.00 Z" fill="#a9a9a9" stroke="#a9a9a9" stroke-width="1.2" stroke-linejoin="miter"/>
<path transform="translate(340.56,592.38)" d="M6.00,-0.00 L-6.00,-6.00 L-6.00,6.00 Z" fill="#a9a9a9" stroke="#a9a9a9" stroke-width="1.2" stroke-linejoin="miter"/>
<path transform="translate(357.17,599.31)" d="M6.00,-0.00 L-6.00,-6.00 L-6.00,6.00 Z" fill="#a9a9a9" stroke="#a9a9a9" stroke-width="1.2" stroke-linejoin="miter"/>
<path transform="translate(373.77,604.73)" d="M6.00,-0.00 L-6.00,-6.00 L-6.00,6.00 Z" fill="#a9a9a9" stroke="#a9a9a9" stroke-width="1.2" stroke-linejoin="miter"/>
<path transform="translate(390.38,611.23)" d="M6.00,-0.00 L-6.00,-6.00 L-6.00,6.00 Z" fill="#a9a9a9" stroke="#a9a9a9" stroke-width="1.2" stroke-linejoin="miter"/>
<path transform="translate(406.98,616.65)" d="M6.00,-0.00 L-6.00,-6.00 L-6.00,6.00 Z" fill="#a9a9a9" stroke="#a9a9a9" stroke-width="1.2" stroke-linejoin="miter"/>
<path transform="translate(423.58,620.12)" d="M6.00,-0.00 L-6.00,-6.00 L-6.00,6.00 Z" fill="#a9a9a9" stroke="#a9a9a9" stroke-width="1.2" stroke-linejoin="miter"/>
<path transform="translate(440.19,623.37)" d="M6.00,-0.00 L-6.00,-6.00 L-6.00,6.00 Z" fill="#a9a9a9" stroke="#a9a9a9" stroke-width="1.2" stroke-linejoin="miter"/>
<path transform="translate(456.79,625.32)" d="M6.00,-0.00 L-6.00,-6.00 L-6.00,6.00 Z" fill="#a9a9a9" stroke="#a9a9a9" stroke-width="1.2" stroke-linejoin="miter"/>
<path transform="translate(473.40,626.41)" d="M6.00,-0.00 L-6.00,-6.00 L-6.00,6.00 Z" fill="#a9a9a9" stroke="#a9a9a9" stroke-width="1.2" stroke-linejoin="miter"/>
<path transform="translate(490.00,627.49)" d="M6.00,-0.00 L-6.00,-6.00 L-6.00,6.00 Z" fill="#a9a9a9" stroke="#a9a9a9" stroke-width="1.2" stroke-linejoin="miter"/>
</g>
<g clip-path="url(#c2)">
<polyline points="91.50,527.79 108.11,503.08 124.71,495.92 141.32,498.09 157.92,500.26 174.52,502.21 191.13,502.21 207.73,501.34 224.34,500.91 240.94,500.91 257.54,500.91 274.15,500.48 290.75,499.61 307.36,501.56 323.96,502.64 340.56,504.81 357.17,507.19 373.77,509.36 390.38,512.61 406.98,516.51 423.58,519.55 440.19,519.55 456.79,522.80 473.40,522.80 490.00,523.23" fill="none" stroke="#bdb76b" stroke-width="2.3" stroke-linejoin="round" stroke-linecap="square"/>
<path transform="translate(91.50,527.79)" d="M0.00,-5.20 L-1.17,-1.61 L-4.95,-1.61 L-1.89,0.61 L-3.06,4.21 L-0.00,1.99 L3.06,4.21 L1.89,0.61 L4.95,-1.61 L1.17,-1.61 Z" fill="#bdb76b" stroke="#bdb76b" stroke-width="1.2" stroke-linejoin="miter"/>
<path transform="translate(108.11,503.08)" d="M0.00,-5.20 L-1.17,-1.61 L-4.95,-1.61 L-1.89,0.61 L-3.06,4.21 L-0.00,1.99 L3.06,4.21 L1.89,0.61 L4.95,-1.61 L1.17,-1.61 Z" fill="#bdb76b" stroke="#bdb76b" stroke-width="1.2" stroke-linejoin="miter"/>
<path transform="translate(124.71,495.92)" d="M0.00,-5.20 L-1.17,-1.61 L-4.95,-1.61 L-1.89,0.61 L-3.06,4.21 L-0.00,1.99 L3.06,4.21 L1.89,0.61 L4.95,-1.61 L1.17,-1.61 Z" fill="#bdb76b" stroke="#bdb76b" stroke-width="1.2" stroke-linejoin="miter"/>
<path transform="translate(141.32,498.09)" d="M0.00,-5.20 L-1.17,-1.61 L-4.95,-1.61 L-1.89,0.61 L-3.06,4.21 L-0.00,1.99 L3.06,4.21 L1.89,0.61 L4.95,-1.61 L1.17,-1.61 Z" fill="#bdb76b" stroke="#bdb76b" stroke-width="1.2" stroke-linejoin="miter"/>
<path transform="translate(157.92,500.26)" d="M0.00,-5.20 L-1.17,-1.61 L-4.95,-1.61 L-1.89,0.61 L-3.06,4.21 L-0.00,1.99 L3.06,4.21 L1.89,0.61 L4.95,-1.61 L1.17,-1.61 Z" fill="#bdb76b" stroke="#bdb76b" stroke-width="1.2" stroke-linejoin="miter"/>
<path transform="translate(174.52,502.21)" d="M0.00,-5.20 L-1.17,-1.61 L-4.95,-1.61 L-1.89,0.61 L-3.06,4.21 L-0.00,1.99 L3.06,4.21 L1.89,0.61 L4.95,-1.61 L1.17,-1.61 Z" fill="#bdb76b" stroke="#bdb76b" stroke-width="1.2" stroke-linejoin="miter"/>
<path transform="translate(191.13,502.21)" d="M0.00,-5.20 L-1.17,-1.61 L-4.95,-1.61 L-1.89,0.61 L-3.06,4.21 L-0.00,1.99 L3.06,4.21 L1.89,0.61 L4.95,-1.61 L1.17,-1.61 Z" fill="#bdb76b" stroke="#bdb76b" stroke-width="1.2" stroke-linejoin="miter"/>
<path transform="translate(207.73,501.34)" d="M0.00,-5.20 L-1.17,-1.61 L-4.95,-1.61 L-1.89,0.61 L-3.06,4.21 L-0.00,1.99 L3.06,4.21 L1.89,0.61 L4.95,-1.61 L1.17,-1.61 Z" fill="#bdb76b" stroke="#bdb76b" stroke-width="1.2" stroke-linejoin="miter"/>
<path transform="translate(224.34,500.91)" d="M0.00,-5.20 L-1.17,-1.61 L-4.95,-1.61 L-1.89,0.61 L-3.06,4.21 L-0.00,1.99 L3.06,4.21 L1.89,0.61 L4.95,-1.61 L1.17,-1.61 Z" fill="#bdb76b" stroke="#bdb76b" stroke-width="1.2" stroke-linejoin="miter"/>
<path transform="translate(240.94,500.91)" d="M0.00,-5.20 L-1.17,-1.61 L-4.95,-1.61 L-1.89,0.61 L-3.06,4.21 L-0.00,1.99 L3.06,4.21 L1.89,0.61 L4.95,-1.61 L1.17,-1.61 Z" fill="#bdb76b" stroke="#bdb76b" stroke-width="1.2" stroke-linejoin="miter"/>
<path transform="translate(257.54,500.91)" d="M0.00,-5.20 L-1.17,-1.61 L-4.95,-1.61 L-1.89,0.61 L-3.06,4.21 L-0.00,1.99 L3.06,4.21 L1.89,0.61 L4.95,-1.61 L1.17,-1.61 Z" fill="#bdb76b" stroke="#bdb76b" stroke-width="1.2" stroke-linejoin="miter"/>
<path transform="translate(274.15,500.48)" d="M0.00,-5.20 L-1.17,-1.61 L-4.95,-1.61 L-1.89,0.61 L-3.06,4.21 L-0.00,1.99 L3.06,4.21 L1.89,0.61 L4.95,-1.61 L1.17,-1.61 Z" fill="#bdb76b" stroke="#bdb76b" stroke-width="1.2" stroke-linejoin="miter"/>
<path transform="translate(290.75,499.61)" d="M0.00,-5.20 L-1.17,-1.61 L-4.95,-1.61 L-1.89,0.61 L-3.06,4.21 L-0.00,1.99 L3.06,4.21 L1.89,0.61 L4.95,-1.61 L1.17,-1.61 Z" fill="#bdb76b" stroke="#bdb76b" stroke-width="1.2" stroke-linejoin="miter"/>
<path transform="translate(307.36,501.56)" d="M0.00,-5.20 L-1.17,-1.61 L-4.95,-1.61 L-1.89,0.61 L-3.06,4.21 L-0.00,1.99 L3.06,4.21 L1.89,0.61 L4.95,-1.61 L1.17,-1.61 Z" fill="#bdb76b" stroke="#bdb76b" stroke-width="1.2" stroke-linejoin="miter"/>
<path transform="translate(323.96,502.64)" d="M0.00,-5.20 L-1.17,-1.61 L-4.95,-1.61 L-1.89,0.61 L-3.06,4.21 L-0.00,1.99 L3.06,4.21 L1.89,0.61 L4.95,-1.61 L1.17,-1.61 Z" fill="#bdb76b" stroke="#bdb76b" stroke-width="1.2" stroke-linejoin="miter"/>
<path transform="translate(340.56,504.81)" d="M0.00,-5.20 L-1.17,-1.61 L-4.95,-1.61 L-1.89,0.61 L-3.06,4.21 L-0.00,1.99 L3.06,4.21 L1.89,0.61 L4.95,-1.61 L1.17,-1.61 Z" fill="#bdb76b" stroke="#bdb76b" stroke-width="1.2" stroke-linejoin="miter"/>
<path transform="translate(357.17,507.19)" d="M0.00,-5.20 L-1.17,-1.61 L-4.95,-1.61 L-1.89,0.61 L-3.06,4.21 L-0.00,1.99 L3.06,4.21 L1.89,0.61 L4.95,-1.61 L1.17,-1.61 Z" fill="#bdb76b" stroke="#bdb76b" stroke-width="1.2" stroke-linejoin="miter"/>
<path transform="translate(373.77,509.36)" d="M0.00,-5.20 L-1.17,-1.61 L-4.95,-1.61 L-1.89,0.61 L-3.06,4.21 L-0.00,1.99 L3.06,4.21 L1.89,0.61 L4.95,-1.61 L1.17,-1.61 Z" fill="#bdb76b" stroke="#bdb76b" stroke-width="1.2" stroke-linejoin="miter"/>
<path transform="translate(390.38,512.61)" d="M0.00,-5.20 L-1.17,-1.61 L-4.95,-1.61 L-1.89,0.61 L-3.06,4.21 L-0.00,1.99 L3.06,4.21 L1.89,0.61 L4.95,-1.61 L1.17,-1.61 Z" fill="#bdb76b" stroke="#bdb76b" stroke-width="1.2" stroke-linejoin="miter"/>
<path transform="translate(406.98,516.51)" d="M0.00,-5.20 L-1.17,-1.61 L-4.95,-1.61 L-1.89,0.61 L-3.06,4.21 L-0.00,1.99 L3.06,4.21 L1.89,0.61 L4.95,-1.61 L1.17,-1.61 Z" fill="#bdb76b" stroke="#bdb76b" stroke-width="1.2" stroke-linejoin="miter"/>
<path transform="translate(423.58,519.55)" d="M0.00,-5.20 L-1.17,-1.61 L-4.95,-1.61 L-1.89,0.61 L-3.06,4.21 L-0.00,1.99 L3.06,4.21 L1.89,0.61 L4.95,-1.61 L1.17,-1.61 Z" fill="#bdb76b" stroke="#bdb76b" stroke-width="1.2" stroke-linejoin="miter"/>
<path transform="translate(440.19,519.55)" d="M0.00,-5.20 L-1.17,-1.61 L-4.95,-1.61 L-1.89,0.61 L-3.06,4.21 L-0.00,1.99 L3.06,4.21 L1.89,0.61 L4.95,-1.61 L1.17,-1.61 Z" fill="#bdb76b" stroke="#bdb76b" stroke-width="1.2" stroke-linejoin="miter"/>
<path transform="translate(456.79,522.80)" d="M0.00,-5.20 L-1.17,-1.61 L-4.95,-1.61 L-1.89,0.61 L-3.06,4.21 L-0.00,1.99 L3.06,4.21 L1.89,0.61 L4.95,-1.61 L1.17,-1.61 Z" fill="#bdb76b" stroke="#bdb76b" stroke-width="1.2" stroke-linejoin="miter"/>
<path transform="translate(473.40,522.80)" d="M0.00,-5.20 L-1.17,-1.61 L-4.95,-1.61 L-1.89,0.61 L-3.06,4.21 L-0.00,1.99 L3.06,4.21 L1.89,0.61 L4.95,-1.61 L1.17,-1.61 Z" fill="#bdb76b" stroke="#bdb76b" stroke-width="1.2" stroke-linejoin="miter"/>
<path transform="translate(490.00,523.23)" d="M0.00,-5.20 L-1.17,-1.61 L-4.95,-1.61 L-1.89,0.61 L-3.06,4.21 L-0.00,1.99 L3.06,4.21 L1.89,0.61 L4.95,-1.61 L1.17,-1.61 Z" fill="#bdb76b" stroke="#bdb76b" stroke-width="1.2" stroke-linejoin="miter"/>
</g>
<g clip-path="url(#c2)">
<polyline points="91.50,557.26 108.11,531.90 124.71,525.18 141.32,525.84 157.92,530.39 174.52,538.19 191.13,546.64 207.73,553.36 224.34,563.12 240.94,571.57 257.54,578.51 274.15,589.13 290.75,596.06 307.36,604.30 323.96,613.19 340.56,621.86 357.17,627.27 373.77,632.69 390.38,638.11 406.98,642.23 423.58,646.57 440.19,648.52 456.79,650.68 473.40,651.77 490.00,651.77" fill="none" stroke="#000000" stroke-width="2.3" stroke-linejoin="round" stroke-linecap="square"/>
<path transform="translate(91.50,557.26)" d="M0.00,-6.00 L-5.71,-1.85 L-3.53,4.85 L3.53,4.85 L5.71,-1.85 Z" fill="#000000" stroke="#000000" stroke-width="1.2" stroke-linejoin="miter"/>
<path transform="translate(108.11,531.90)" d="M0.00,-6.00 L-5.71,-1.85 L-3.53,4.85 L3.53,4.85 L5.71,-1.85 Z" fill="#000000" stroke="#000000" stroke-width="1.2" stroke-linejoin="miter"/>
<path transform="translate(124.71,525.18)" d="M0.00,-6.00 L-5.71,-1.85 L-3.53,4.85 L3.53,4.85 L5.71,-1.85 Z" fill="#000000" stroke="#000000" stroke-width="1.2" stroke-linejoin="miter"/>
<path transform="translate(141.32,525.84)" d="M0.00,-6.00 L-5.71,-1.85 L-3.53,4.85 L3.53,4.85 L5.71,-1.85 Z" fill="#000000" stroke="#000000" stroke-width="1.2" stroke-linejoin="miter"/>
<path transform="translate(157.92,530.39)" d="M0.00,-6.00 L-5.71,-1.85 L-3.53,4.85 L3.53,4.85 L5.71,-1.85 Z" fill="#000000" stroke="#000000" stroke-width="1.2" stroke-linejoin="miter"/>
<path transform="translate(174.52,538.19)" d="M0.00,-6.00 L-5.71,-1.85 L-3.53,4.85 L3.53,4.85 L5.71,-1.85 Z" fill="#000000" stroke="#000000" stroke-width="1.2" stroke-linejoin="miter"/>
<path transform="translate(191.13,546.64)" d="M0.00,-6.00 L-5.71,-1.85 L-3.53,4.85 L3.53,4.85 L5.71,-1.85 Z" fill="#000000" stroke="#000000" stroke-width="1.2" stroke-linejoin="miter"/>
<path transform="translate(207.73,553.36)" d="M0.00,-6.00 L-5.71,-1.85 L-3.53,4.85 L3.53,4.85 L5.71,-1.85 Z" fill="#000000" stroke="#000000" stroke-width="1.2" stroke-linejoin="miter"/>
<path transform="translate(224.34,563.12)" d="M0.00,-6.00 L-5.71,-1.85 L-3.53,4.85 L3.53,4.85 L5.71,-1.85 Z" fill="#000000" stroke="#000000" stroke-width="1.2" stroke-linejoin="miter"/>
<path transform="translate(240.94,571.57)" d="M0.00,-6.00 L-5.71,-1.85 L-3.53,4.85 L3.53,4.85 L5.71,-1.85 Z" fill="#000000" stroke="#000000" stroke-width="1.2" stroke-linejoin="miter"/>
<path transform="translate(257.54,578.51)" d="M0.00,-6.00 L-5.71,-1.85 L-3.53,4.85 L3.53,4.85 L5.71,-1.85 Z" fill="#000000" stroke="#000000" stroke-width="1.2" stroke-linejoin="miter"/>
<path transform="translate(274.15,589.13)" d="M0.00,-6.00 L-5.71,-1.85 L-3.53,4.85 L3.53,4.85 L5.71,-1.85 Z" fill="#000000" stroke="#000000" stroke-width="1.2" stroke-linejoin="miter"/>
<path transform="translate(290.75,596.06)" d="M0.00,-6.00 L-5.71,-1.85 L-3.53,4.85 L3.53,4.85 L5.71,-1.85 Z" fill="#000000" stroke="#000000" stroke-width="1.2" stroke-linejoin="miter"/>
<path transform="translate(307.36,604.30)" d="M0.00,-6.00 L-5.71,-1.85 L-3.53,4.85 L3.53,4.85 L5.71,-1.85 Z" fill="#000000" stroke="#000000" stroke-width="1.2" stroke-linejoin="miter"/>
<path transform="translate(323.96,613.19)" d="M0.00,-6.00 L-5.71,-1.85 L-3.53,4.85 L3.53,4.85 L5.71,-1.85 Z" fill="#000000" stroke="#000000" stroke-width="1.2" stroke-linejoin="miter"/>
<path transform="translate(340.56,621.86)" d="M0.00,-6.00 L-5.71,-1.85 L-3.53,4.85 L3.53,4.85 L5.71,-1.85 Z" fill="#000000" stroke="#000000" stroke-width="1.2" stroke-linejoin="miter"/>
<path transform="translate(357.17,627.27)" d="M0.00,-6.00 L-5.71,-1.85 L-3.53,4.85 L3.53,4.85 L5.71,-1.85 Z" fill="#000000" stroke="#000000" stroke-width="1.2" stroke-linejoin="miter"/>
<path transform="translate(373.77,632.69)" d="M0.00,-6.00 L-5.71,-1.85 L-3.53,4.85 L3.53,4.85 L5.71,-1.85 Z" fill="#000000" stroke="#000000" stroke-width="1.2" stroke-linejoin="miter"/>
<path transform="translate(390.38,638.11)" d="M0.00,-6.00 L-5.71,-1.85 L-3.53,4.85 L3.53,4.85 L5.71,-1.85 Z" fill="#000000" stroke="#000000" stroke-width="1.2" stroke-linejoin="miter"/>
<path transform="translate(406.98,642.23)" d="M0.00,-6.00 L-5.71,-1.85 L-3.53,4.85 L3.53,4.85 L5.71,-1.85 Z" fill="#000000" stroke="#000000" stroke-width="1.2" stroke-linejoin="miter"/>
<path transform="translate(423.58,646.57)" d="M0.00,-6.00 L-5.71,-1.85 L-3.53,4.85 L3.53,4.85 L5.71,-1.85 Z" fill="#000000" stroke="#000000" stroke-width="1.2" stroke-linejoin="miter"/>
<path transform="translate(440.19,648.52)" d="M0.00,-6.00 L-5.71,-1.85 L-3.53,4.85 L3.53,4.85 L5.71,-1.85 Z" fill="#000000" stroke="#000000" stroke-width="1.2" stroke-linejoin="miter"/>
<path transform="translate(456.79,650.68)" d="M0.00,-6.00 L-5.71,-1.85 L-3.53,4.85 L3.53,4.85 L5.71,-1.85 Z" fill="#000000" stroke="#000000" stroke-width="1.2" stroke-linejoin="miter"/>
<path transform="translate(473.40,651.77)" d="M0.00,-6.00 L-5.71,-1.85 L-3.53,4.85 L3.53,4.85 L5.71,-1.85 Z" fill="#000000" stroke="#000000" stroke-width="1.2" stroke-linejoin="miter"/>
<path transform="translate(490.00,651.77)" d="M0.00,-6.00 L-5.71,-1.85 L-3.53,4.85 L3.53,4.85 L5.71,-1.85 Z" fill="#000000" stroke="#000000" stroke-width="1.2" stroke-linejoin="miter"/>
</g>
<rect x="72.10" y="448.80" width="438.10" height="227.20" fill="none" stroke="#000" stroke-width="1.3"/>
<line x1="74.90" y1="676.00" x2="74.90" y2="680.50" stroke="#000" stroke-width="1.3"/>
<text x="74.90" y="699.60" font-size="18.50" text-anchor="middle" textLength="29.5" lengthAdjust="spacingAndGlyphs">0.0</text>
<line x1="157.92" y1="676.00" x2="157.92" y2="680.50" stroke="#000" stroke-width="1.3"/>
<text x="157.92" y="699.60" font-size="18.50" text-anchor="middle" textLength="29.5" lengthAdjust="spacingAndGlyphs">0.1</text>
<line x1="240.94" y1="676.00" x2="240.94" y2="680.50" stroke="#000" stroke-width="1.3"/>
<text x="240.94" y="699.60" font-size="18.50" text-anchor="middle" textLength="29.5" lengthAdjust="spacingAndGlyphs">0.2</text>
<line x1="323.96" y1="676.00" x2="323.96" y2="680.50" stroke="#000" stroke-width="1.3"/>
<text x="323.96" y="699.60" font-size="18.50" text-anchor="middle" textLength="29.5" lengthAdjust="spacingAndGlyphs">0.3</text>
<line x1="406.98" y1="676.00" x2="406.98" y2="680.50" stroke="#000" stroke-width="1.3"/>
<text x="406.98" y="699.60" font-size="18.50" text-anchor="middle" textLength="29.5" lengthAdjust="spacingAndGlyphs">0.4</text>
<line x1="490.00" y1="676.00" x2="490.00" y2="680.50" stroke="#000" stroke-width="1.3"/>
<text x="490.00" y="699.60" font-size="18.50" text-anchor="middle" textLength="29.5" lengthAdjust="spacingAndGlyphs">0.5</text>
<line x1="67.60" y1="650.90" x2="72.10" y2="650.90" stroke="#000" stroke-width="1.3"/>
<text x="62.60" y="657.50" font-size="18.50" text-anchor="end" textLength="29.2" lengthAdjust="spacingAndGlyphs">0.2</text>
<line x1="67.60" y1="607.55" x2="72.10" y2="607.55" stroke="#000" stroke-width="1.3"/>
<text x="62.60" y="614.15" font-size="18.50" text-anchor="end" textLength="29.2" lengthAdjust="spacingAndGlyphs">0.4</text>
<line x1="67.60" y1="564.20" x2="72.10" y2="564.20" stroke="#000" stroke-width="1.3"/>
<text x="62.60" y="570.80" font-size="18.50" text-anchor="end" textLength="29.2" lengthAdjust="spacingAndGlyphs">0.6</text>
<line x1="67.60" y1="520.85" x2="72.10" y2="520.85" stroke="#000" stroke-width="1.3"/>
<text x="62.60" y="527.45" font-size="18.50" text-anchor="end" textLength="29.2" lengthAdjust="spacingAndGlyphs">0.8</text>
<line x1="67.60" y1="477.50" x2="72.10" y2="477.50" stroke="#000" stroke-width="1.3"/>
<text x="62.60" y="484.10" font-size="18.50" text-anchor="end" textLength="29.2" lengthAdjust="spacingAndGlyphs">1.0</text>
<rect x="44.6" y="389.4" width="498.6" height="50.6" rx="3.5" fill="#808080" fill-opacity="0.75" filter="url(#blur1)"/>
<rect x="41.4" y="386.4" width="498.6" height="50.6" rx="3" fill="#ffffff" stroke="#d0d0d0" stroke-width="1"/>
<line x1="46.60" y1="399.20" x2="79.60" y2="399.20" stroke="#0000ff" stroke-width="2.5"/>
<circle cx="63.10" cy="399.20" r="3.75" fill="#0000ff"/>
<text x="91.10" y="404.80" font-size="15.50" text-anchor="start" textLength="31.2" lengthAdjust="spacingAndGlyphs">MLE</text>
<line x1="46.60" y1="421.90" x2="79.60" y2="421.90" stroke="#ff8c00" stroke-width="2.5"/>
<circle cx="63.10" cy="421.90" r="6.50" fill="#ff8c00"/>
<text x="91.10" y="427.50" font-size="15.50" text-anchor="start" textLength="26.2" lengthAdjust="spacingAndGlyphs">MM</text>
<line x1="152.90" y1="399.20" x2="185.90" y2="399.20" stroke="#008000" stroke-width="2.5"/>
<path transform="translate(169.40,399.20)" d="M-6.00,0 L6.00,0 M0,-6.00 L0,6.00" stroke="#008000" stroke-width="1.8" fill="none"/>
<text x="197.50" y="404.80" font-size="15.50" text-anchor="start" textLength="20.3" lengthAdjust="spacingAndGlyphs">CS</text>
<line x1="152.90" y1="421.90" x2="185.90" y2="421.90" stroke="#ff0000" stroke-width="2.5"/>
<path transform="translate(169.40,421.90)" d="M-6.00,-6.00 L6.00,6.00 M-6.00,6.00 L6.00,-6.00" stroke="#ff0000" stroke-width="2" fill="none"/>
<text x="197.50" y="427.50" font-size="15.50" text-anchor="start" textLength="21.2" lengthAdjust="spacingAndGlyphs">CC</text>
<line x1="249.10" y1="399.20" x2="282.10" y2="399.20" stroke="#800080" stroke-width="2.5"/>
<path transform="translate(265.60,399.20)" d="M0.00,6.00 L6.00,-6.00 L-6.00,-6.00 Z" fill="#800080" stroke="#800080" stroke-width="1.2" stroke-linejoin="miter"/>
<text x="292.90" y="404.80" font-size="15.50" text-anchor="start" textLength="11.8" lengthAdjust="spacingAndGlyphs">G</text>
<line x1="249.10" y1="421.90" x2="282.10" y2="421.90" stroke="#a52a2a" stroke-width="2.5"/>
<path transform="translate(265.60,421.90)" d="M0.00,-6.00 L-6.00,6.00 L6.00,6.00 Z" fill="#a52a2a" stroke="#a52a2a" stroke-width="1.2" stroke-linejoin="miter"/>
<text x="292.90" y="427.50" font-size="15.50" text-anchor="start" textLength="31.4" lengthAdjust="spacingAndGlyphs">NSB</text>
<line x1="355.60" y1="399.20" x2="388.60" y2="399.20" stroke="#ff69b4" stroke-width="2.5"/>
<path transform="translate(372.10,399.20)" d="M-6.00,0.00 L6.00,6.00 L6.00,-6.00 Z" fill="#ff69b4" stroke="#ff69b4" stroke-width="1.2" stroke-linejoin="miter"/>
<text x="399.90" y="404.80" font-size="15.50" text-anchor="start" textLength="21.1" lengthAdjust="spacingAndGlyphs">SH</text>
<line x1="355.60" y1="421.90" x2="388.60" y2="421.90" stroke="#a9a9a9" stroke-width="2.5"/>
<path transform="translate(372.10,421.90)" d="M6.00,-0.00 L-6.00,-6.00 L-6.00,6.00 Z" fill="#a9a9a9" stroke="#a9a9a9" stroke-width="1.2" stroke-linejoin="miter"/>
<text x="399.90" y="427.50" font-size="15.50" text-anchor="start" textLength="10.4" lengthAdjust="spacingAndGlyphs">B</text>
<line x1="451.60" y1="399.20" x2="484.60" y2="399.20" stroke="#bdb76b" stroke-width="2.5"/>
<path transform="translate(468.10,399.20)" d="M0.00,-5.20 L-1.17,-1.61 L-4.95,-1.61 L-1.89,0.61 L-3.06,4.21 L-0.00,1.99 L3.06,4.21 L1.89,0.61 L4.95,-1.61 L1.17,-1.61 Z" fill="#bdb76b" stroke="#bdb76b" stroke-width="1.2" stroke-linejoin="miter"/>
<text x="496.10" y="404.80" font-size="15.50" text-anchor="start" textLength="10.6" lengthAdjust="spacingAndGlyphs">C</text>
<line x1="451.60" y1="421.90" x2="484.60" y2="421.90" stroke="#000000" stroke-width="2.5"/>
<path transform="translate(468.10,421.90)" d="M0.00,-6.00 L-5.71,-1.85 L-3.53,4.85 L3.53,4.85 L5.71,-1.85 Z" fill="#000000" stroke="#000000" stroke-width="1.2" stroke-linejoin="miter"/>
<text x="496.10" y="427.50" font-size="15.50" text-anchor="start" textLength="36.8" lengthAdjust="spacingAndGlyphs">CMM</text>
<text transform="translate(23.8,181.3) rotate(-90)" font-size="23.5" text-anchor="middle" textLength="49" lengthAdjust="spacingAndGlyphs">Bias</text>
<text x="294" y="341.7" font-size="24.5" font-style="italic" text-anchor="middle">p</text>
<text x="291" y="724.6" font-size="24.5" font-style="italic" text-anchor="middle">p</text>
<text transform="translate(23.8,562.4) rotate(-90)" font-size="23.5" text-anchor="middle" textLength="223" lengthAdjust="spacingAndGlyphs">Standard deviation</text>
</svg>
</body></html>
